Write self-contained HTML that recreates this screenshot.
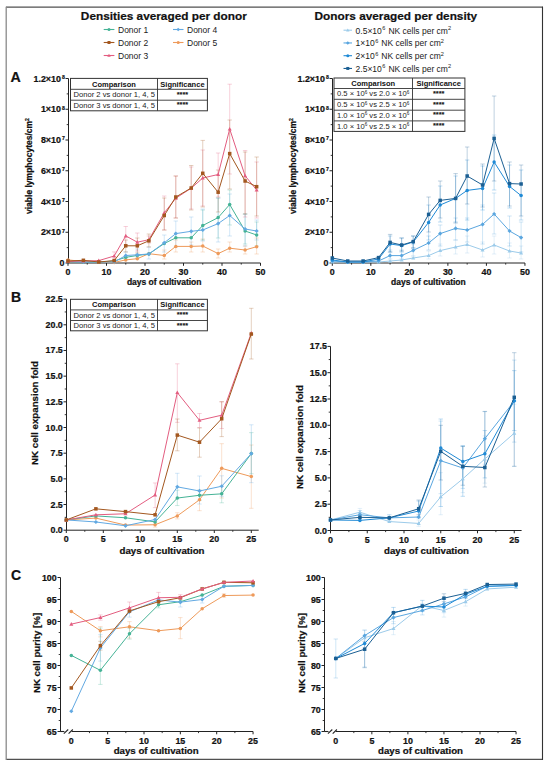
<!DOCTYPE html>
<html><head><meta charset="utf-8"><style>
html,body{margin:0;padding:0;background:#fff;}
body{width:550px;height:767px;overflow:hidden;}
svg{display:block;font-family:"Liberation Sans", sans-serif;}
text[font-weight="bold"]{stroke:#111;stroke-width:0.22px;}
</style></head><body>
<svg width="550" height="767" viewBox="0 0 550 767">
<rect x="0" y="0" width="550" height="767" fill="#fff"/>
<line x1="6.00" y1="7.20" x2="543.00" y2="7.20" stroke="#505050" stroke-width="1.3"/>
<line x1="6.00" y1="759.40" x2="543.00" y2="759.40" stroke="#505050" stroke-width="1.2"/>
<line x1="542.50" y1="6.80" x2="542.50" y2="760.00" stroke="#333" stroke-width="1.1"/>
<line x1="6.20" y1="6.80" x2="6.20" y2="760.00" stroke="#8a8a8a" stroke-width="1.3"/>
<text x="163.80" y="20.20" font-size="11.8" font-weight="bold" text-anchor="middle" fill="#111">Densities averaged per donor</text>
<line x1="103.70" y1="29.50" x2="114.40" y2="29.50" stroke="#45b396" stroke-width="1.1"/>
<circle cx="109.00" cy="29.50" r="1.5" fill="#45b396"/>
<text x="118.00" y="32.60" font-size="8.5" font-weight="normal" text-anchor="start" fill="#1a1a1a">Donor 1</text>
<line x1="103.70" y1="42.50" x2="114.40" y2="42.50" stroke="#a3571f" stroke-width="1.1"/>
<rect x="107.50" y="41.00" width="3.00" height="3.00" fill="#a3571f"/>
<text x="118.00" y="45.60" font-size="8.5" font-weight="normal" text-anchor="start" fill="#1a1a1a">Donor 2</text>
<line x1="103.70" y1="55.50" x2="114.40" y2="55.50" stroke="#e35d80" stroke-width="1.1"/>
<polygon points="109.00,53.70 110.72,56.77 107.28,56.77" fill="#e35d80"/>
<text x="118.00" y="58.60" font-size="8.5" font-weight="normal" text-anchor="start" fill="#1a1a1a">Donor 3</text>
<line x1="173.00" y1="29.50" x2="183.50" y2="29.50" stroke="#62a9e2" stroke-width="1.1"/>
<polygon points="178.20,27.70 180.00,29.50 178.20,31.30 176.40,29.50" fill="#62a9e2"/>
<text x="187.00" y="32.60" font-size="8.5" font-weight="normal" text-anchor="start" fill="#1a1a1a">Donor 4</text>
<line x1="173.00" y1="42.50" x2="183.50" y2="42.50" stroke="#ee9a5a" stroke-width="1.1"/>
<circle cx="178.20" cy="42.50" r="1.5" fill="#ee9a5a"/>
<text x="187.00" y="45.60" font-size="8.5" font-weight="normal" text-anchor="start" fill="#1a1a1a">Donor 5</text>
<text x="395.90" y="20.20" font-size="11.8" font-weight="bold" text-anchor="middle" fill="#111">Donors averaged per density</text>
<line x1="343.50" y1="30.20" x2="352.00" y2="30.20" stroke="#9ccbea" stroke-width="1.1"/>
<polygon points="347.80,28.40 349.53,31.47 346.07,31.47" fill="#9ccbea"/>
<text x="355.6" y="33.50" font-size="8.5" fill="#1a1a1a">0.5×10<tspan dx="0.5" dy="-3.3" font-size="5.6">6</tspan><tspan dy="3.3" dx="0.6"> NK cells per cm</tspan><tspan dy="-3.3" font-size="5.6">2</tspan></text>
<line x1="343.50" y1="42.95" x2="352.00" y2="42.95" stroke="#5aa6df" stroke-width="1.1"/>
<polygon points="347.80,41.15 349.60,42.95 347.80,44.75 346.00,42.95" fill="#5aa6df"/>
<text x="355.6" y="46.25" font-size="8.5" fill="#1a1a1a">1×10<tspan dx="0.5" dy="-3.3" font-size="5.6">6</tspan><tspan dy="3.3" dx="0.6"> NK cells per cm</tspan><tspan dy="-3.3" font-size="5.6">2</tspan></text>
<line x1="343.50" y1="55.70" x2="352.00" y2="55.70" stroke="#1f8ad6" stroke-width="1.1"/>
<circle cx="347.80" cy="55.70" r="1.5" fill="#1f8ad6"/>
<text x="355.6" y="59.00" font-size="8.5" fill="#1a1a1a">2×10<tspan dx="0.5" dy="-3.3" font-size="5.6">6</tspan><tspan dy="3.3" dx="0.6"> NK cells per cm</tspan><tspan dy="-3.3" font-size="5.6">2</tspan></text>
<line x1="343.50" y1="68.45" x2="352.00" y2="68.45" stroke="#1b5f93" stroke-width="1.1"/>
<rect x="346.30" y="66.95" width="3.00" height="3.00" fill="#1b5f93"/>
<text x="355.6" y="71.75" font-size="8.5" fill="#1a1a1a">2.5×10<tspan dx="0.5" dy="-3.3" font-size="5.6">6</tspan><tspan dy="3.3" dx="0.6"> NK cells per cm</tspan><tspan dy="-3.3" font-size="5.6">2</tspan></text>
<text x="10.40" y="81.80" font-size="14.2" font-weight="bold" text-anchor="start" fill="#111">A</text>
<text x="11.10" y="302.20" font-size="14.0" font-weight="bold" text-anchor="start" fill="#111">B</text>
<text x="11.10" y="580.20" font-size="14.0" font-weight="bold" text-anchor="start" fill="#111">C</text>
<line x1="68.50" y1="78.50" x2="68.50" y2="263.00" stroke="#222" stroke-width="1.0"/>
<line x1="65.50" y1="263.00" x2="68.50" y2="263.00" stroke="#222" stroke-width="1.0"/>
<text x="64.50" y="266.00" font-size="8.9" font-weight="bold" text-anchor="end" fill="#111">0</text>
<line x1="65.50" y1="232.25" x2="68.50" y2="232.25" stroke="#222" stroke-width="1.0"/>
<text x="64.80" y="235.25" font-size="8.9" font-weight="bold" text-anchor="end" fill="#111">2×10<tspan dx="1.0" dy="-2.6" font-size="5.16">7</tspan></text>
<line x1="65.50" y1="201.50" x2="68.50" y2="201.50" stroke="#222" stroke-width="1.0"/>
<text x="64.80" y="204.50" font-size="8.9" font-weight="bold" text-anchor="end" fill="#111">4×10<tspan dx="1.0" dy="-2.6" font-size="5.16">7</tspan></text>
<line x1="65.50" y1="170.75" x2="68.50" y2="170.75" stroke="#222" stroke-width="1.0"/>
<text x="64.80" y="173.75" font-size="8.9" font-weight="bold" text-anchor="end" fill="#111">6×10<tspan dx="1.0" dy="-2.6" font-size="5.16">7</tspan></text>
<line x1="65.50" y1="140.00" x2="68.50" y2="140.00" stroke="#222" stroke-width="1.0"/>
<text x="64.80" y="143.00" font-size="8.9" font-weight="bold" text-anchor="end" fill="#111">8×10<tspan dx="1.0" dy="-2.6" font-size="5.16">7</tspan></text>
<line x1="65.50" y1="109.25" x2="68.50" y2="109.25" stroke="#222" stroke-width="1.0"/>
<text x="64.80" y="112.25" font-size="8.9" font-weight="bold" text-anchor="end" fill="#111">1×10<tspan dx="1.0" dy="-2.6" font-size="5.16">8</tspan></text>
<line x1="65.50" y1="78.50" x2="68.50" y2="78.50" stroke="#222" stroke-width="1.0"/>
<text x="64.80" y="81.50" font-size="8.9" font-weight="bold" text-anchor="end" fill="#111">1.2×10<tspan dx="1.0" dy="-2.6" font-size="5.16">8</tspan></text>
<line x1="66.70" y1="247.62" x2="68.50" y2="247.62" stroke="#222" stroke-width="0.9"/>
<line x1="66.70" y1="216.88" x2="68.50" y2="216.88" stroke="#222" stroke-width="0.9"/>
<line x1="66.70" y1="186.12" x2="68.50" y2="186.12" stroke="#222" stroke-width="0.9"/>
<line x1="66.70" y1="155.38" x2="68.50" y2="155.38" stroke="#222" stroke-width="0.9"/>
<line x1="66.70" y1="124.62" x2="68.50" y2="124.62" stroke="#222" stroke-width="0.9"/>
<line x1="66.70" y1="93.88" x2="68.50" y2="93.88" stroke="#222" stroke-width="0.9"/>
<line x1="68.00" y1="263.00" x2="260.50" y2="263.00" stroke="#222" stroke-width="1.0"/>
<line x1="68.00" y1="263.00" x2="68.00" y2="265.80" stroke="#222" stroke-width="1.0"/>
<text x="68.00" y="275.20" font-size="8.9" font-weight="bold" text-anchor="middle" fill="#111">0</text>
<line x1="106.50" y1="263.00" x2="106.50" y2="265.80" stroke="#222" stroke-width="1.0"/>
<text x="106.50" y="275.20" font-size="8.9" font-weight="bold" text-anchor="middle" fill="#111">10</text>
<line x1="145.00" y1="263.00" x2="145.00" y2="265.80" stroke="#222" stroke-width="1.0"/>
<text x="145.00" y="275.20" font-size="8.9" font-weight="bold" text-anchor="middle" fill="#111">20</text>
<line x1="183.50" y1="263.00" x2="183.50" y2="265.80" stroke="#222" stroke-width="1.0"/>
<text x="183.50" y="275.20" font-size="8.9" font-weight="bold" text-anchor="middle" fill="#111">30</text>
<line x1="222.00" y1="263.00" x2="222.00" y2="265.80" stroke="#222" stroke-width="1.0"/>
<text x="222.00" y="275.20" font-size="8.9" font-weight="bold" text-anchor="middle" fill="#111">40</text>
<line x1="260.50" y1="263.00" x2="260.50" y2="265.80" stroke="#222" stroke-width="1.0"/>
<text x="260.50" y="275.20" font-size="8.9" font-weight="bold" text-anchor="middle" fill="#111">50</text>
<line x1="87.25" y1="263.00" x2="87.25" y2="264.60" stroke="#222" stroke-width="0.9"/>
<line x1="125.75" y1="263.00" x2="125.75" y2="264.60" stroke="#222" stroke-width="0.9"/>
<line x1="164.25" y1="263.00" x2="164.25" y2="264.60" stroke="#222" stroke-width="0.9"/>
<line x1="202.75" y1="263.00" x2="202.75" y2="264.60" stroke="#222" stroke-width="0.9"/>
<line x1="241.25" y1="263.00" x2="241.25" y2="264.60" stroke="#222" stroke-width="0.9"/>
<text x="164.20" y="284.60" font-size="8.5" font-weight="bold" text-anchor="middle" fill="#111">days of cultivation</text>
<text x="31.6" y="166.0" font-size="8.5" font-weight="bold" text-anchor="middle" fill="#111" transform="rotate(-90 31.6 166.0)">viable lymphocytes/cm<tspan dy="-3" font-size="5.2">2</tspan></text>
<line x1="164.25" y1="250.00" x2="164.25" y2="259.00" stroke="#ee9a5a" stroke-width="0.75" stroke-opacity="0.38"/>
<line x1="162.05" y1="250.00" x2="166.45" y2="250.00" stroke="#ee9a5a" stroke-width="0.75" stroke-opacity="0.38"/>
<line x1="162.05" y1="259.00" x2="166.45" y2="259.00" stroke="#ee9a5a" stroke-width="0.75" stroke-opacity="0.38"/>
<line x1="175.80" y1="240.00" x2="175.80" y2="252.00" stroke="#ee9a5a" stroke-width="0.75" stroke-opacity="0.38"/>
<line x1="173.60" y1="240.00" x2="178.00" y2="240.00" stroke="#ee9a5a" stroke-width="0.75" stroke-opacity="0.38"/>
<line x1="173.60" y1="252.00" x2="178.00" y2="252.00" stroke="#ee9a5a" stroke-width="0.75" stroke-opacity="0.38"/>
<line x1="191.20" y1="242.00" x2="191.20" y2="252.00" stroke="#ee9a5a" stroke-width="0.75" stroke-opacity="0.38"/>
<line x1="189.00" y1="242.00" x2="193.40" y2="242.00" stroke="#ee9a5a" stroke-width="0.75" stroke-opacity="0.38"/>
<line x1="189.00" y1="252.00" x2="193.40" y2="252.00" stroke="#ee9a5a" stroke-width="0.75" stroke-opacity="0.38"/>
<line x1="202.75" y1="239.00" x2="202.75" y2="252.00" stroke="#ee9a5a" stroke-width="0.75" stroke-opacity="0.38"/>
<line x1="200.55" y1="239.00" x2="204.95" y2="239.00" stroke="#ee9a5a" stroke-width="0.75" stroke-opacity="0.38"/>
<line x1="200.55" y1="252.00" x2="204.95" y2="252.00" stroke="#ee9a5a" stroke-width="0.75" stroke-opacity="0.38"/>
<line x1="218.15" y1="249.00" x2="218.15" y2="258.00" stroke="#ee9a5a" stroke-width="0.75" stroke-opacity="0.38"/>
<line x1="215.95" y1="249.00" x2="220.35" y2="249.00" stroke="#ee9a5a" stroke-width="0.75" stroke-opacity="0.38"/>
<line x1="215.95" y1="258.00" x2="220.35" y2="258.00" stroke="#ee9a5a" stroke-width="0.75" stroke-opacity="0.38"/>
<line x1="229.70" y1="242.00" x2="229.70" y2="252.00" stroke="#ee9a5a" stroke-width="0.75" stroke-opacity="0.38"/>
<line x1="227.50" y1="242.00" x2="231.90" y2="242.00" stroke="#ee9a5a" stroke-width="0.75" stroke-opacity="0.38"/>
<line x1="227.50" y1="252.00" x2="231.90" y2="252.00" stroke="#ee9a5a" stroke-width="0.75" stroke-opacity="0.38"/>
<line x1="245.10" y1="246.00" x2="245.10" y2="254.00" stroke="#ee9a5a" stroke-width="0.75" stroke-opacity="0.38"/>
<line x1="242.90" y1="246.00" x2="247.30" y2="246.00" stroke="#ee9a5a" stroke-width="0.75" stroke-opacity="0.38"/>
<line x1="242.90" y1="254.00" x2="247.30" y2="254.00" stroke="#ee9a5a" stroke-width="0.75" stroke-opacity="0.38"/>
<line x1="256.65" y1="238.00" x2="256.65" y2="254.00" stroke="#ee9a5a" stroke-width="0.75" stroke-opacity="0.38"/>
<line x1="254.45" y1="238.00" x2="258.85" y2="238.00" stroke="#ee9a5a" stroke-width="0.75" stroke-opacity="0.38"/>
<line x1="254.45" y1="254.00" x2="258.85" y2="254.00" stroke="#ee9a5a" stroke-width="0.75" stroke-opacity="0.38"/>
<line x1="202.75" y1="210.00" x2="202.75" y2="240.00" stroke="#45b396" stroke-width="0.75" stroke-opacity="0.38"/>
<line x1="200.55" y1="210.00" x2="204.95" y2="210.00" stroke="#45b396" stroke-width="0.75" stroke-opacity="0.38"/>
<line x1="200.55" y1="240.00" x2="204.95" y2="240.00" stroke="#45b396" stroke-width="0.75" stroke-opacity="0.38"/>
<line x1="218.15" y1="198.00" x2="218.15" y2="238.00" stroke="#45b396" stroke-width="0.75" stroke-opacity="0.38"/>
<line x1="215.95" y1="198.00" x2="220.35" y2="198.00" stroke="#45b396" stroke-width="0.75" stroke-opacity="0.38"/>
<line x1="215.95" y1="238.00" x2="220.35" y2="238.00" stroke="#45b396" stroke-width="0.75" stroke-opacity="0.38"/>
<line x1="229.70" y1="190.00" x2="229.70" y2="225.00" stroke="#45b396" stroke-width="0.75" stroke-opacity="0.38"/>
<line x1="227.50" y1="190.00" x2="231.90" y2="190.00" stroke="#45b396" stroke-width="0.75" stroke-opacity="0.38"/>
<line x1="227.50" y1="225.00" x2="231.90" y2="225.00" stroke="#45b396" stroke-width="0.75" stroke-opacity="0.38"/>
<line x1="245.10" y1="214.00" x2="245.10" y2="244.00" stroke="#45b396" stroke-width="0.75" stroke-opacity="0.38"/>
<line x1="242.90" y1="214.00" x2="247.30" y2="214.00" stroke="#45b396" stroke-width="0.75" stroke-opacity="0.38"/>
<line x1="242.90" y1="244.00" x2="247.30" y2="244.00" stroke="#45b396" stroke-width="0.75" stroke-opacity="0.38"/>
<line x1="256.65" y1="222.00" x2="256.65" y2="246.00" stroke="#45b396" stroke-width="0.75" stroke-opacity="0.38"/>
<line x1="254.45" y1="222.00" x2="258.85" y2="222.00" stroke="#45b396" stroke-width="0.75" stroke-opacity="0.38"/>
<line x1="254.45" y1="246.00" x2="258.85" y2="246.00" stroke="#45b396" stroke-width="0.75" stroke-opacity="0.38"/>
<line x1="125.75" y1="251.90" x2="125.75" y2="259.00" stroke="#62a9e2" stroke-width="0.75" stroke-opacity="0.38"/>
<line x1="123.55" y1="251.90" x2="127.95" y2="251.90" stroke="#62a9e2" stroke-width="0.75" stroke-opacity="0.38"/>
<line x1="123.55" y1="259.00" x2="127.95" y2="259.00" stroke="#62a9e2" stroke-width="0.75" stroke-opacity="0.38"/>
<line x1="137.30" y1="249.00" x2="137.30" y2="258.00" stroke="#62a9e2" stroke-width="0.75" stroke-opacity="0.38"/>
<line x1="135.10" y1="249.00" x2="139.50" y2="249.00" stroke="#62a9e2" stroke-width="0.75" stroke-opacity="0.38"/>
<line x1="135.10" y1="258.00" x2="139.50" y2="258.00" stroke="#62a9e2" stroke-width="0.75" stroke-opacity="0.38"/>
<line x1="148.85" y1="247.00" x2="148.85" y2="259.00" stroke="#62a9e2" stroke-width="0.75" stroke-opacity="0.38"/>
<line x1="146.65" y1="247.00" x2="151.05" y2="247.00" stroke="#62a9e2" stroke-width="0.75" stroke-opacity="0.38"/>
<line x1="146.65" y1="259.00" x2="151.05" y2="259.00" stroke="#62a9e2" stroke-width="0.75" stroke-opacity="0.38"/>
<line x1="164.25" y1="235.00" x2="164.25" y2="252.00" stroke="#62a9e2" stroke-width="0.75" stroke-opacity="0.38"/>
<line x1="162.05" y1="235.00" x2="166.45" y2="235.00" stroke="#62a9e2" stroke-width="0.75" stroke-opacity="0.38"/>
<line x1="162.05" y1="252.00" x2="166.45" y2="252.00" stroke="#62a9e2" stroke-width="0.75" stroke-opacity="0.38"/>
<line x1="175.80" y1="221.00" x2="175.80" y2="247.00" stroke="#62a9e2" stroke-width="0.75" stroke-opacity="0.38"/>
<line x1="173.60" y1="221.00" x2="178.00" y2="221.00" stroke="#62a9e2" stroke-width="0.75" stroke-opacity="0.38"/>
<line x1="173.60" y1="247.00" x2="178.00" y2="247.00" stroke="#62a9e2" stroke-width="0.75" stroke-opacity="0.38"/>
<line x1="191.20" y1="217.00" x2="191.20" y2="245.00" stroke="#62a9e2" stroke-width="0.75" stroke-opacity="0.38"/>
<line x1="189.00" y1="217.00" x2="193.40" y2="217.00" stroke="#62a9e2" stroke-width="0.75" stroke-opacity="0.38"/>
<line x1="189.00" y1="245.00" x2="193.40" y2="245.00" stroke="#62a9e2" stroke-width="0.75" stroke-opacity="0.38"/>
<line x1="202.75" y1="209.00" x2="202.75" y2="241.00" stroke="#62a9e2" stroke-width="0.75" stroke-opacity="0.38"/>
<line x1="200.55" y1="209.00" x2="204.95" y2="209.00" stroke="#62a9e2" stroke-width="0.75" stroke-opacity="0.38"/>
<line x1="200.55" y1="241.00" x2="204.95" y2="241.00" stroke="#62a9e2" stroke-width="0.75" stroke-opacity="0.38"/>
<line x1="218.15" y1="198.00" x2="218.15" y2="242.00" stroke="#62a9e2" stroke-width="0.75" stroke-opacity="0.38"/>
<line x1="215.95" y1="198.00" x2="220.35" y2="198.00" stroke="#62a9e2" stroke-width="0.75" stroke-opacity="0.38"/>
<line x1="215.95" y1="242.00" x2="220.35" y2="242.00" stroke="#62a9e2" stroke-width="0.75" stroke-opacity="0.38"/>
<line x1="229.70" y1="194.00" x2="229.70" y2="236.00" stroke="#62a9e2" stroke-width="0.75" stroke-opacity="0.38"/>
<line x1="227.50" y1="194.00" x2="231.90" y2="194.00" stroke="#62a9e2" stroke-width="0.75" stroke-opacity="0.38"/>
<line x1="227.50" y1="236.00" x2="231.90" y2="236.00" stroke="#62a9e2" stroke-width="0.75" stroke-opacity="0.38"/>
<line x1="245.10" y1="214.00" x2="245.10" y2="246.00" stroke="#62a9e2" stroke-width="0.75" stroke-opacity="0.38"/>
<line x1="242.90" y1="214.00" x2="247.30" y2="214.00" stroke="#62a9e2" stroke-width="0.75" stroke-opacity="0.38"/>
<line x1="242.90" y1="246.00" x2="247.30" y2="246.00" stroke="#62a9e2" stroke-width="0.75" stroke-opacity="0.38"/>
<line x1="256.65" y1="220.00" x2="256.65" y2="240.00" stroke="#62a9e2" stroke-width="0.75" stroke-opacity="0.38"/>
<line x1="254.45" y1="220.00" x2="258.85" y2="220.00" stroke="#62a9e2" stroke-width="0.75" stroke-opacity="0.38"/>
<line x1="254.45" y1="240.00" x2="258.85" y2="240.00" stroke="#62a9e2" stroke-width="0.75" stroke-opacity="0.38"/>
<line x1="114.20" y1="251.90" x2="114.20" y2="259.00" stroke="#e35d80" stroke-width="0.75" stroke-opacity="0.38"/>
<line x1="112.00" y1="251.90" x2="116.40" y2="251.90" stroke="#e35d80" stroke-width="0.75" stroke-opacity="0.38"/>
<line x1="112.00" y1="259.00" x2="116.40" y2="259.00" stroke="#e35d80" stroke-width="0.75" stroke-opacity="0.38"/>
<line x1="125.75" y1="226.50" x2="125.75" y2="245.00" stroke="#e35d80" stroke-width="0.75" stroke-opacity="0.38"/>
<line x1="123.55" y1="226.50" x2="127.95" y2="226.50" stroke="#e35d80" stroke-width="0.75" stroke-opacity="0.38"/>
<line x1="123.55" y1="245.00" x2="127.95" y2="245.00" stroke="#e35d80" stroke-width="0.75" stroke-opacity="0.38"/>
<line x1="137.30" y1="233.00" x2="137.30" y2="251.00" stroke="#e35d80" stroke-width="0.75" stroke-opacity="0.38"/>
<line x1="135.10" y1="233.00" x2="139.50" y2="233.00" stroke="#e35d80" stroke-width="0.75" stroke-opacity="0.38"/>
<line x1="135.10" y1="251.00" x2="139.50" y2="251.00" stroke="#e35d80" stroke-width="0.75" stroke-opacity="0.38"/>
<line x1="148.85" y1="236.00" x2="148.85" y2="243.00" stroke="#e35d80" stroke-width="0.75" stroke-opacity="0.38"/>
<line x1="146.65" y1="236.00" x2="151.05" y2="236.00" stroke="#e35d80" stroke-width="0.75" stroke-opacity="0.38"/>
<line x1="146.65" y1="243.00" x2="151.05" y2="243.00" stroke="#e35d80" stroke-width="0.75" stroke-opacity="0.38"/>
<line x1="164.25" y1="196.00" x2="164.25" y2="230.00" stroke="#e35d80" stroke-width="0.75" stroke-opacity="0.38"/>
<line x1="162.05" y1="196.00" x2="166.45" y2="196.00" stroke="#e35d80" stroke-width="0.75" stroke-opacity="0.38"/>
<line x1="162.05" y1="230.00" x2="166.45" y2="230.00" stroke="#e35d80" stroke-width="0.75" stroke-opacity="0.38"/>
<line x1="175.80" y1="176.00" x2="175.80" y2="218.00" stroke="#e35d80" stroke-width="0.75" stroke-opacity="0.38"/>
<line x1="173.60" y1="176.00" x2="178.00" y2="176.00" stroke="#e35d80" stroke-width="0.75" stroke-opacity="0.38"/>
<line x1="173.60" y1="218.00" x2="178.00" y2="218.00" stroke="#e35d80" stroke-width="0.75" stroke-opacity="0.38"/>
<line x1="191.20" y1="167.00" x2="191.20" y2="209.00" stroke="#e35d80" stroke-width="0.75" stroke-opacity="0.38"/>
<line x1="189.00" y1="167.00" x2="193.40" y2="167.00" stroke="#e35d80" stroke-width="0.75" stroke-opacity="0.38"/>
<line x1="189.00" y1="209.00" x2="193.40" y2="209.00" stroke="#e35d80" stroke-width="0.75" stroke-opacity="0.38"/>
<line x1="202.75" y1="150.00" x2="202.75" y2="206.00" stroke="#e35d80" stroke-width="0.75" stroke-opacity="0.38"/>
<line x1="200.55" y1="150.00" x2="204.95" y2="150.00" stroke="#e35d80" stroke-width="0.75" stroke-opacity="0.38"/>
<line x1="200.55" y1="206.00" x2="204.95" y2="206.00" stroke="#e35d80" stroke-width="0.75" stroke-opacity="0.38"/>
<line x1="218.15" y1="153.00" x2="218.15" y2="197.00" stroke="#e35d80" stroke-width="0.75" stroke-opacity="0.38"/>
<line x1="215.95" y1="153.00" x2="220.35" y2="153.00" stroke="#e35d80" stroke-width="0.75" stroke-opacity="0.38"/>
<line x1="215.95" y1="197.00" x2="220.35" y2="197.00" stroke="#e35d80" stroke-width="0.75" stroke-opacity="0.38"/>
<line x1="229.70" y1="84.20" x2="229.70" y2="174.00" stroke="#e35d80" stroke-width="0.75" stroke-opacity="0.38"/>
<line x1="227.50" y1="84.20" x2="231.90" y2="84.20" stroke="#e35d80" stroke-width="0.75" stroke-opacity="0.38"/>
<line x1="227.50" y1="174.00" x2="231.90" y2="174.00" stroke="#e35d80" stroke-width="0.75" stroke-opacity="0.38"/>
<line x1="245.10" y1="150.50" x2="245.10" y2="217.00" stroke="#e35d80" stroke-width="0.75" stroke-opacity="0.38"/>
<line x1="242.90" y1="150.50" x2="247.30" y2="150.50" stroke="#e35d80" stroke-width="0.75" stroke-opacity="0.38"/>
<line x1="242.90" y1="217.00" x2="247.30" y2="217.00" stroke="#e35d80" stroke-width="0.75" stroke-opacity="0.38"/>
<line x1="256.65" y1="162.00" x2="256.65" y2="218.00" stroke="#e35d80" stroke-width="0.75" stroke-opacity="0.38"/>
<line x1="254.45" y1="162.00" x2="258.85" y2="162.00" stroke="#e35d80" stroke-width="0.75" stroke-opacity="0.38"/>
<line x1="254.45" y1="218.00" x2="258.85" y2="218.00" stroke="#e35d80" stroke-width="0.75" stroke-opacity="0.38"/>
<line x1="125.75" y1="240.00" x2="125.75" y2="252.00" stroke="#a3571f" stroke-width="0.75" stroke-opacity="0.38"/>
<line x1="123.55" y1="240.00" x2="127.95" y2="240.00" stroke="#a3571f" stroke-width="0.75" stroke-opacity="0.38"/>
<line x1="123.55" y1="252.00" x2="127.95" y2="252.00" stroke="#a3571f" stroke-width="0.75" stroke-opacity="0.38"/>
<line x1="137.30" y1="238.00" x2="137.30" y2="253.00" stroke="#a3571f" stroke-width="0.75" stroke-opacity="0.38"/>
<line x1="135.10" y1="238.00" x2="139.50" y2="238.00" stroke="#a3571f" stroke-width="0.75" stroke-opacity="0.38"/>
<line x1="135.10" y1="253.00" x2="139.50" y2="253.00" stroke="#a3571f" stroke-width="0.75" stroke-opacity="0.38"/>
<line x1="148.85" y1="234.00" x2="148.85" y2="247.00" stroke="#a3571f" stroke-width="0.75" stroke-opacity="0.38"/>
<line x1="146.65" y1="234.00" x2="151.05" y2="234.00" stroke="#a3571f" stroke-width="0.75" stroke-opacity="0.38"/>
<line x1="146.65" y1="247.00" x2="151.05" y2="247.00" stroke="#a3571f" stroke-width="0.75" stroke-opacity="0.38"/>
<line x1="164.25" y1="198.00" x2="164.25" y2="230.00" stroke="#a3571f" stroke-width="0.75" stroke-opacity="0.38"/>
<line x1="162.05" y1="198.00" x2="166.45" y2="198.00" stroke="#a3571f" stroke-width="0.75" stroke-opacity="0.38"/>
<line x1="162.05" y1="230.00" x2="166.45" y2="230.00" stroke="#a3571f" stroke-width="0.75" stroke-opacity="0.38"/>
<line x1="175.80" y1="176.00" x2="175.80" y2="218.00" stroke="#a3571f" stroke-width="0.75" stroke-opacity="0.38"/>
<line x1="173.60" y1="176.00" x2="178.00" y2="176.00" stroke="#a3571f" stroke-width="0.75" stroke-opacity="0.38"/>
<line x1="173.60" y1="218.00" x2="178.00" y2="218.00" stroke="#a3571f" stroke-width="0.75" stroke-opacity="0.38"/>
<line x1="191.20" y1="165.50" x2="191.20" y2="210.00" stroke="#a3571f" stroke-width="0.75" stroke-opacity="0.38"/>
<line x1="189.00" y1="165.50" x2="193.40" y2="165.50" stroke="#a3571f" stroke-width="0.75" stroke-opacity="0.38"/>
<line x1="189.00" y1="210.00" x2="193.40" y2="210.00" stroke="#a3571f" stroke-width="0.75" stroke-opacity="0.38"/>
<line x1="202.75" y1="140.40" x2="202.75" y2="207.00" stroke="#a3571f" stroke-width="0.75" stroke-opacity="0.38"/>
<line x1="200.55" y1="140.40" x2="204.95" y2="140.40" stroke="#a3571f" stroke-width="0.75" stroke-opacity="0.38"/>
<line x1="200.55" y1="207.00" x2="204.95" y2="207.00" stroke="#a3571f" stroke-width="0.75" stroke-opacity="0.38"/>
<line x1="218.15" y1="170.00" x2="218.15" y2="212.00" stroke="#a3571f" stroke-width="0.75" stroke-opacity="0.38"/>
<line x1="215.95" y1="170.00" x2="220.35" y2="170.00" stroke="#a3571f" stroke-width="0.75" stroke-opacity="0.38"/>
<line x1="215.95" y1="212.00" x2="220.35" y2="212.00" stroke="#a3571f" stroke-width="0.75" stroke-opacity="0.38"/>
<line x1="229.70" y1="120.00" x2="229.70" y2="189.00" stroke="#a3571f" stroke-width="0.75" stroke-opacity="0.38"/>
<line x1="227.50" y1="120.00" x2="231.90" y2="120.00" stroke="#a3571f" stroke-width="0.75" stroke-opacity="0.38"/>
<line x1="227.50" y1="189.00" x2="231.90" y2="189.00" stroke="#a3571f" stroke-width="0.75" stroke-opacity="0.38"/>
<line x1="245.10" y1="152.00" x2="245.10" y2="214.00" stroke="#a3571f" stroke-width="0.75" stroke-opacity="0.38"/>
<line x1="242.90" y1="152.00" x2="247.30" y2="152.00" stroke="#a3571f" stroke-width="0.75" stroke-opacity="0.38"/>
<line x1="242.90" y1="214.00" x2="247.30" y2="214.00" stroke="#a3571f" stroke-width="0.75" stroke-opacity="0.38"/>
<line x1="256.65" y1="157.00" x2="256.65" y2="216.00" stroke="#a3571f" stroke-width="0.75" stroke-opacity="0.38"/>
<line x1="254.45" y1="157.00" x2="258.85" y2="157.00" stroke="#a3571f" stroke-width="0.75" stroke-opacity="0.38"/>
<line x1="254.45" y1="216.00" x2="258.85" y2="216.00" stroke="#a3571f" stroke-width="0.75" stroke-opacity="0.38"/>
<polyline points="68.00,259.90 83.40,261.50 98.80,262.00 114.20,262.40 125.75,259.90 137.30,258.70 148.85,253.70 164.25,255.50 175.80,246.40 191.20,246.40 202.75,246.00 218.15,253.60 229.70,248.20 245.10,250.00 256.65,246.70" fill="none" stroke="#ee9a5a" stroke-width="1.0" stroke-linejoin="miter"/>
<circle cx="68.00" cy="259.90" r="1.75" fill="#ee9a5a"/>
<circle cx="83.40" cy="261.50" r="1.75" fill="#ee9a5a"/>
<circle cx="98.80" cy="262.00" r="1.75" fill="#ee9a5a"/>
<circle cx="114.20" cy="262.40" r="1.75" fill="#ee9a5a"/>
<circle cx="125.75" cy="259.90" r="1.75" fill="#ee9a5a"/>
<circle cx="137.30" cy="258.70" r="1.75" fill="#ee9a5a"/>
<circle cx="148.85" cy="253.70" r="1.75" fill="#ee9a5a"/>
<circle cx="164.25" cy="255.50" r="1.75" fill="#ee9a5a"/>
<circle cx="175.80" cy="246.40" r="1.75" fill="#ee9a5a"/>
<circle cx="191.20" cy="246.40" r="1.75" fill="#ee9a5a"/>
<circle cx="202.75" cy="246.00" r="1.75" fill="#ee9a5a"/>
<circle cx="218.15" cy="253.60" r="1.75" fill="#ee9a5a"/>
<circle cx="229.70" cy="248.20" r="1.75" fill="#ee9a5a"/>
<circle cx="245.10" cy="250.00" r="1.75" fill="#ee9a5a"/>
<circle cx="256.65" cy="246.70" r="1.75" fill="#ee9a5a"/>
<polyline points="68.00,261.50 83.40,262.00 98.80,262.00 114.20,261.00 125.75,257.30 137.30,255.50 148.85,254.00 164.25,243.50 175.80,237.80 191.20,237.80 202.75,225.50 218.15,217.60 229.70,204.50 245.10,231.00 256.65,235.00" fill="none" stroke="#45b396" stroke-width="1.0" stroke-linejoin="miter"/>
<circle cx="68.00" cy="261.50" r="1.75" fill="#45b396"/>
<circle cx="83.40" cy="262.00" r="1.75" fill="#45b396"/>
<circle cx="98.80" cy="262.00" r="1.75" fill="#45b396"/>
<circle cx="114.20" cy="261.00" r="1.75" fill="#45b396"/>
<circle cx="125.75" cy="257.30" r="1.75" fill="#45b396"/>
<circle cx="137.30" cy="255.50" r="1.75" fill="#45b396"/>
<circle cx="148.85" cy="254.00" r="1.75" fill="#45b396"/>
<circle cx="164.25" cy="243.50" r="1.75" fill="#45b396"/>
<circle cx="175.80" cy="237.80" r="1.75" fill="#45b396"/>
<circle cx="191.20" cy="237.80" r="1.75" fill="#45b396"/>
<circle cx="202.75" cy="225.50" r="1.75" fill="#45b396"/>
<circle cx="218.15" cy="217.60" r="1.75" fill="#45b396"/>
<circle cx="229.70" cy="204.50" r="1.75" fill="#45b396"/>
<circle cx="245.10" cy="231.00" r="1.75" fill="#45b396"/>
<circle cx="256.65" cy="235.00" r="1.75" fill="#45b396"/>
<polyline points="68.00,261.50 83.40,262.00 98.80,262.00 114.20,262.00 125.75,255.50 137.30,254.80 148.85,254.00 164.25,242.80 175.80,233.60 191.20,231.30 202.75,230.00 218.15,223.60 229.70,215.50 245.10,229.00 256.65,231.00" fill="none" stroke="#62a9e2" stroke-width="1.0" stroke-linejoin="miter"/>
<polygon points="68.00,259.40 70.10,261.50 68.00,263.60 65.90,261.50" fill="#62a9e2"/>
<polygon points="83.40,259.90 85.50,262.00 83.40,264.10 81.30,262.00" fill="#62a9e2"/>
<polygon points="98.80,259.90 100.90,262.00 98.80,264.10 96.70,262.00" fill="#62a9e2"/>
<polygon points="114.20,259.90 116.30,262.00 114.20,264.10 112.10,262.00" fill="#62a9e2"/>
<polygon points="125.75,253.40 127.85,255.50 125.75,257.60 123.65,255.50" fill="#62a9e2"/>
<polygon points="137.30,252.70 139.40,254.80 137.30,256.90 135.20,254.80" fill="#62a9e2"/>
<polygon points="148.85,251.90 150.95,254.00 148.85,256.10 146.75,254.00" fill="#62a9e2"/>
<polygon points="164.25,240.70 166.35,242.80 164.25,244.90 162.15,242.80" fill="#62a9e2"/>
<polygon points="175.80,231.50 177.90,233.60 175.80,235.70 173.70,233.60" fill="#62a9e2"/>
<polygon points="191.20,229.20 193.30,231.30 191.20,233.40 189.10,231.30" fill="#62a9e2"/>
<polygon points="202.75,227.90 204.85,230.00 202.75,232.10 200.65,230.00" fill="#62a9e2"/>
<polygon points="218.15,221.50 220.25,223.60 218.15,225.70 216.05,223.60" fill="#62a9e2"/>
<polygon points="229.70,213.40 231.80,215.50 229.70,217.60 227.60,215.50" fill="#62a9e2"/>
<polygon points="245.10,226.90 247.20,229.00 245.10,231.10 243.00,229.00" fill="#62a9e2"/>
<polygon points="256.65,228.90 258.75,231.00 256.65,233.10 254.55,231.00" fill="#62a9e2"/>
<polyline points="68.00,261.40 83.40,261.00 98.80,260.60 114.20,256.00 125.75,235.90 137.30,242.20 148.85,239.70 164.25,212.90 175.80,198.20 191.20,188.20 202.75,178.00 218.15,174.50 229.70,129.00 245.10,175.80 256.65,190.00" fill="none" stroke="#e35d80" stroke-width="1.0" stroke-linejoin="miter"/>
<polygon points="68.00,259.30 70.01,262.89 65.99,262.89" fill="#e35d80"/>
<polygon points="83.40,258.90 85.41,262.49 81.39,262.49" fill="#e35d80"/>
<polygon points="98.80,258.50 100.81,262.09 96.79,262.09" fill="#e35d80"/>
<polygon points="114.20,253.90 116.21,257.49 112.19,257.49" fill="#e35d80"/>
<polygon points="125.75,233.80 127.76,237.39 123.74,237.39" fill="#e35d80"/>
<polygon points="137.30,240.10 139.31,243.69 135.29,243.69" fill="#e35d80"/>
<polygon points="148.85,237.60 150.86,241.19 146.84,241.19" fill="#e35d80"/>
<polygon points="164.25,210.80 166.26,214.39 162.24,214.39" fill="#e35d80"/>
<polygon points="175.80,196.10 177.81,199.69 173.79,199.69" fill="#e35d80"/>
<polygon points="191.20,186.10 193.21,189.69 189.19,189.69" fill="#e35d80"/>
<polygon points="202.75,175.90 204.76,179.49 200.74,179.49" fill="#e35d80"/>
<polygon points="218.15,172.40 220.16,175.99 216.14,175.99" fill="#e35d80"/>
<polygon points="229.70,126.90 231.71,130.49 227.69,130.49" fill="#e35d80"/>
<polygon points="245.10,173.70 247.11,177.29 243.09,177.29" fill="#e35d80"/>
<polygon points="256.65,187.90 258.66,191.49 254.64,191.49" fill="#e35d80"/>
<polyline points="68.00,261.00 83.40,260.30 98.80,262.00 114.20,260.60 125.75,245.80 137.30,245.80 148.85,240.80 164.25,215.50 175.80,197.00 191.20,188.00 202.75,173.30 218.15,192.20 229.70,153.60 245.10,181.00 256.65,186.70" fill="none" stroke="#a3571f" stroke-width="1.0" stroke-linejoin="miter"/>
<rect x="66.25" y="259.25" width="3.50" height="3.50" fill="#a3571f"/>
<rect x="81.65" y="258.55" width="3.50" height="3.50" fill="#a3571f"/>
<rect x="97.05" y="260.25" width="3.50" height="3.50" fill="#a3571f"/>
<rect x="112.45" y="258.85" width="3.50" height="3.50" fill="#a3571f"/>
<rect x="124.00" y="244.05" width="3.50" height="3.50" fill="#a3571f"/>
<rect x="135.55" y="244.05" width="3.50" height="3.50" fill="#a3571f"/>
<rect x="147.10" y="239.05" width="3.50" height="3.50" fill="#a3571f"/>
<rect x="162.50" y="213.75" width="3.50" height="3.50" fill="#a3571f"/>
<rect x="174.05" y="195.25" width="3.50" height="3.50" fill="#a3571f"/>
<rect x="189.45" y="186.25" width="3.50" height="3.50" fill="#a3571f"/>
<rect x="201.00" y="171.55" width="3.50" height="3.50" fill="#a3571f"/>
<rect x="216.40" y="190.45" width="3.50" height="3.50" fill="#a3571f"/>
<rect x="227.95" y="151.85" width="3.50" height="3.50" fill="#a3571f"/>
<rect x="243.35" y="179.25" width="3.50" height="3.50" fill="#a3571f"/>
<rect x="254.90" y="184.95" width="3.50" height="3.50" fill="#a3571f"/>
<rect x="70.50" y="78.40" width="136.90" height="32.40" fill="#fff" stroke="#333" stroke-width="1"/>
<line x1="70.50" y1="89.30" x2="207.40" y2="89.30" stroke="#333" stroke-width="0.9"/>
<line x1="70.50" y1="100.20" x2="207.40" y2="100.20" stroke="#333" stroke-width="0.9"/>
<line x1="157.50" y1="78.40" x2="157.50" y2="110.80" stroke="#333" stroke-width="0.9"/>
<text x="114.00" y="86.55" font-size="7.524" font-weight="bold" text-anchor="middle" fill="#111" style="stroke:none">Comparison</text>
<text x="182.45" y="86.55" font-size="7.524" font-weight="bold" text-anchor="middle" fill="#111" style="stroke:none">Significance</text>
<text x="73.50" y="97.15" font-size="7.6" font-weight="normal" text-anchor="start" fill="#222">Donor 2 vs donor 1, 4, 5</text>
<text x="182.45" y="96.65" font-size="7.4479999999999995" font-weight="normal" text-anchor="middle" fill="#111" stroke="#111" stroke-width="0.25">****</text>
<text x="73.50" y="107.90" font-size="7.6" font-weight="normal" text-anchor="start" fill="#222">Donor 3 vs donor 1, 4, 5</text>
<text x="182.45" y="107.40" font-size="7.4479999999999995" font-weight="normal" text-anchor="middle" fill="#111" stroke="#111" stroke-width="0.25">****</text>
<line x1="332.50" y1="78.50" x2="332.50" y2="263.00" stroke="#222" stroke-width="1.0"/>
<line x1="329.50" y1="263.00" x2="332.50" y2="263.00" stroke="#222" stroke-width="1.0"/>
<text x="328.50" y="266.00" font-size="8.9" font-weight="bold" text-anchor="end" fill="#111">0</text>
<line x1="329.50" y1="232.25" x2="332.50" y2="232.25" stroke="#222" stroke-width="1.0"/>
<text x="328.80" y="235.25" font-size="8.9" font-weight="bold" text-anchor="end" fill="#111">2×10<tspan dx="1.0" dy="-2.6" font-size="5.16">7</tspan></text>
<line x1="329.50" y1="201.50" x2="332.50" y2="201.50" stroke="#222" stroke-width="1.0"/>
<text x="328.80" y="204.50" font-size="8.9" font-weight="bold" text-anchor="end" fill="#111">4×10<tspan dx="1.0" dy="-2.6" font-size="5.16">7</tspan></text>
<line x1="329.50" y1="170.75" x2="332.50" y2="170.75" stroke="#222" stroke-width="1.0"/>
<text x="328.80" y="173.75" font-size="8.9" font-weight="bold" text-anchor="end" fill="#111">6×10<tspan dx="1.0" dy="-2.6" font-size="5.16">7</tspan></text>
<line x1="329.50" y1="140.00" x2="332.50" y2="140.00" stroke="#222" stroke-width="1.0"/>
<text x="328.80" y="143.00" font-size="8.9" font-weight="bold" text-anchor="end" fill="#111">8×10<tspan dx="1.0" dy="-2.6" font-size="5.16">7</tspan></text>
<line x1="329.50" y1="109.25" x2="332.50" y2="109.25" stroke="#222" stroke-width="1.0"/>
<text x="328.80" y="112.25" font-size="8.9" font-weight="bold" text-anchor="end" fill="#111">1×10<tspan dx="1.0" dy="-2.6" font-size="5.16">8</tspan></text>
<line x1="329.50" y1="78.50" x2="332.50" y2="78.50" stroke="#222" stroke-width="1.0"/>
<text x="328.80" y="81.50" font-size="8.9" font-weight="bold" text-anchor="end" fill="#111">1.2×10<tspan dx="1.0" dy="-2.6" font-size="5.16">8</tspan></text>
<line x1="330.70" y1="247.62" x2="332.50" y2="247.62" stroke="#222" stroke-width="0.9"/>
<line x1="330.70" y1="216.88" x2="332.50" y2="216.88" stroke="#222" stroke-width="0.9"/>
<line x1="330.70" y1="186.12" x2="332.50" y2="186.12" stroke="#222" stroke-width="0.9"/>
<line x1="330.70" y1="155.38" x2="332.50" y2="155.38" stroke="#222" stroke-width="0.9"/>
<line x1="330.70" y1="124.62" x2="332.50" y2="124.62" stroke="#222" stroke-width="0.9"/>
<line x1="330.70" y1="93.88" x2="332.50" y2="93.88" stroke="#222" stroke-width="0.9"/>
<line x1="332.00" y1="263.00" x2="524.95" y2="263.00" stroke="#222" stroke-width="1.0"/>
<line x1="332.30" y1="263.00" x2="332.30" y2="265.80" stroke="#222" stroke-width="1.0"/>
<text x="332.30" y="275.20" font-size="8.9" font-weight="bold" text-anchor="middle" fill="#111">0</text>
<line x1="370.83" y1="263.00" x2="370.83" y2="265.80" stroke="#222" stroke-width="1.0"/>
<text x="370.83" y="275.20" font-size="8.9" font-weight="bold" text-anchor="middle" fill="#111">10</text>
<line x1="409.36" y1="263.00" x2="409.36" y2="265.80" stroke="#222" stroke-width="1.0"/>
<text x="409.36" y="275.20" font-size="8.9" font-weight="bold" text-anchor="middle" fill="#111">20</text>
<line x1="447.89" y1="263.00" x2="447.89" y2="265.80" stroke="#222" stroke-width="1.0"/>
<text x="447.89" y="275.20" font-size="8.9" font-weight="bold" text-anchor="middle" fill="#111">30</text>
<line x1="486.42" y1="263.00" x2="486.42" y2="265.80" stroke="#222" stroke-width="1.0"/>
<text x="486.42" y="275.20" font-size="8.9" font-weight="bold" text-anchor="middle" fill="#111">40</text>
<line x1="524.95" y1="263.00" x2="524.95" y2="265.80" stroke="#222" stroke-width="1.0"/>
<text x="524.95" y="275.20" font-size="8.9" font-weight="bold" text-anchor="middle" fill="#111">50</text>
<line x1="351.56" y1="263.00" x2="351.56" y2="264.60" stroke="#222" stroke-width="0.9"/>
<line x1="390.10" y1="263.00" x2="390.10" y2="264.60" stroke="#222" stroke-width="0.9"/>
<line x1="428.62" y1="263.00" x2="428.62" y2="264.60" stroke="#222" stroke-width="0.9"/>
<line x1="467.16" y1="263.00" x2="467.16" y2="264.60" stroke="#222" stroke-width="0.9"/>
<line x1="505.69" y1="263.00" x2="505.69" y2="264.60" stroke="#222" stroke-width="0.9"/>
<text x="428.40" y="284.60" font-size="8.5" font-weight="bold" text-anchor="middle" fill="#111">days of cultivation</text>
<text x="295.6" y="166.0" font-size="8.5" font-weight="bold" text-anchor="middle" fill="#111" transform="rotate(-90 295.6 166.0)">viable lymphocytes/cm<tspan dy="-3" font-size="5.2">2</tspan></text>
<line x1="428.62" y1="251.00" x2="428.62" y2="259.00" stroke="#9ccbea" stroke-width="0.75" stroke-opacity="0.38"/>
<line x1="426.43" y1="251.00" x2="430.82" y2="251.00" stroke="#9ccbea" stroke-width="0.75" stroke-opacity="0.38"/>
<line x1="426.43" y1="259.00" x2="430.82" y2="259.00" stroke="#9ccbea" stroke-width="0.75" stroke-opacity="0.38"/>
<line x1="440.18" y1="244.00" x2="440.18" y2="256.00" stroke="#9ccbea" stroke-width="0.75" stroke-opacity="0.38"/>
<line x1="437.98" y1="244.00" x2="442.38" y2="244.00" stroke="#9ccbea" stroke-width="0.75" stroke-opacity="0.38"/>
<line x1="437.98" y1="256.00" x2="442.38" y2="256.00" stroke="#9ccbea" stroke-width="0.75" stroke-opacity="0.38"/>
<line x1="455.60" y1="240.00" x2="455.60" y2="254.00" stroke="#9ccbea" stroke-width="0.75" stroke-opacity="0.38"/>
<line x1="453.40" y1="240.00" x2="457.80" y2="240.00" stroke="#9ccbea" stroke-width="0.75" stroke-opacity="0.38"/>
<line x1="453.40" y1="254.00" x2="457.80" y2="254.00" stroke="#9ccbea" stroke-width="0.75" stroke-opacity="0.38"/>
<line x1="467.16" y1="236.00" x2="467.16" y2="253.00" stroke="#9ccbea" stroke-width="0.75" stroke-opacity="0.38"/>
<line x1="464.96" y1="236.00" x2="469.36" y2="236.00" stroke="#9ccbea" stroke-width="0.75" stroke-opacity="0.38"/>
<line x1="464.96" y1="253.00" x2="469.36" y2="253.00" stroke="#9ccbea" stroke-width="0.75" stroke-opacity="0.38"/>
<line x1="482.57" y1="242.00" x2="482.57" y2="257.00" stroke="#9ccbea" stroke-width="0.75" stroke-opacity="0.38"/>
<line x1="480.37" y1="242.00" x2="484.77" y2="242.00" stroke="#9ccbea" stroke-width="0.75" stroke-opacity="0.38"/>
<line x1="480.37" y1="257.00" x2="484.77" y2="257.00" stroke="#9ccbea" stroke-width="0.75" stroke-opacity="0.38"/>
<line x1="494.13" y1="236.00" x2="494.13" y2="254.00" stroke="#9ccbea" stroke-width="0.75" stroke-opacity="0.38"/>
<line x1="491.93" y1="236.00" x2="496.33" y2="236.00" stroke="#9ccbea" stroke-width="0.75" stroke-opacity="0.38"/>
<line x1="491.93" y1="254.00" x2="496.33" y2="254.00" stroke="#9ccbea" stroke-width="0.75" stroke-opacity="0.38"/>
<line x1="509.54" y1="243.00" x2="509.54" y2="258.00" stroke="#9ccbea" stroke-width="0.75" stroke-opacity="0.38"/>
<line x1="507.34" y1="243.00" x2="511.74" y2="243.00" stroke="#9ccbea" stroke-width="0.75" stroke-opacity="0.38"/>
<line x1="507.34" y1="258.00" x2="511.74" y2="258.00" stroke="#9ccbea" stroke-width="0.75" stroke-opacity="0.38"/>
<line x1="521.10" y1="246.00" x2="521.10" y2="259.00" stroke="#9ccbea" stroke-width="0.75" stroke-opacity="0.38"/>
<line x1="518.90" y1="246.00" x2="523.30" y2="246.00" stroke="#9ccbea" stroke-width="0.75" stroke-opacity="0.38"/>
<line x1="518.90" y1="259.00" x2="523.30" y2="259.00" stroke="#9ccbea" stroke-width="0.75" stroke-opacity="0.38"/>
<line x1="390.10" y1="250.00" x2="390.10" y2="259.00" stroke="#5aa6df" stroke-width="0.75" stroke-opacity="0.38"/>
<line x1="387.90" y1="250.00" x2="392.30" y2="250.00" stroke="#5aa6df" stroke-width="0.75" stroke-opacity="0.38"/>
<line x1="387.90" y1="259.00" x2="392.30" y2="259.00" stroke="#5aa6df" stroke-width="0.75" stroke-opacity="0.38"/>
<line x1="401.65" y1="250.00" x2="401.65" y2="259.00" stroke="#5aa6df" stroke-width="0.75" stroke-opacity="0.38"/>
<line x1="399.45" y1="250.00" x2="403.85" y2="250.00" stroke="#5aa6df" stroke-width="0.75" stroke-opacity="0.38"/>
<line x1="399.45" y1="259.00" x2="403.85" y2="259.00" stroke="#5aa6df" stroke-width="0.75" stroke-opacity="0.38"/>
<line x1="413.21" y1="244.00" x2="413.21" y2="256.00" stroke="#5aa6df" stroke-width="0.75" stroke-opacity="0.38"/>
<line x1="411.01" y1="244.00" x2="415.41" y2="244.00" stroke="#5aa6df" stroke-width="0.75" stroke-opacity="0.38"/>
<line x1="411.01" y1="256.00" x2="415.41" y2="256.00" stroke="#5aa6df" stroke-width="0.75" stroke-opacity="0.38"/>
<line x1="428.62" y1="236.00" x2="428.62" y2="250.00" stroke="#5aa6df" stroke-width="0.75" stroke-opacity="0.38"/>
<line x1="426.43" y1="236.00" x2="430.82" y2="236.00" stroke="#5aa6df" stroke-width="0.75" stroke-opacity="0.38"/>
<line x1="426.43" y1="250.00" x2="430.82" y2="250.00" stroke="#5aa6df" stroke-width="0.75" stroke-opacity="0.38"/>
<line x1="440.18" y1="225.00" x2="440.18" y2="246.00" stroke="#5aa6df" stroke-width="0.75" stroke-opacity="0.38"/>
<line x1="437.98" y1="225.00" x2="442.38" y2="225.00" stroke="#5aa6df" stroke-width="0.75" stroke-opacity="0.38"/>
<line x1="437.98" y1="246.00" x2="442.38" y2="246.00" stroke="#5aa6df" stroke-width="0.75" stroke-opacity="0.38"/>
<line x1="455.60" y1="218.00" x2="455.60" y2="240.00" stroke="#5aa6df" stroke-width="0.75" stroke-opacity="0.38"/>
<line x1="453.40" y1="218.00" x2="457.80" y2="218.00" stroke="#5aa6df" stroke-width="0.75" stroke-opacity="0.38"/>
<line x1="453.40" y1="240.00" x2="457.80" y2="240.00" stroke="#5aa6df" stroke-width="0.75" stroke-opacity="0.38"/>
<line x1="467.16" y1="218.00" x2="467.16" y2="242.00" stroke="#5aa6df" stroke-width="0.75" stroke-opacity="0.38"/>
<line x1="464.96" y1="218.00" x2="469.36" y2="218.00" stroke="#5aa6df" stroke-width="0.75" stroke-opacity="0.38"/>
<line x1="464.96" y1="242.00" x2="469.36" y2="242.00" stroke="#5aa6df" stroke-width="0.75" stroke-opacity="0.38"/>
<line x1="482.57" y1="205.00" x2="482.57" y2="244.00" stroke="#5aa6df" stroke-width="0.75" stroke-opacity="0.38"/>
<line x1="480.37" y1="205.00" x2="484.77" y2="205.00" stroke="#5aa6df" stroke-width="0.75" stroke-opacity="0.38"/>
<line x1="480.37" y1="244.00" x2="484.77" y2="244.00" stroke="#5aa6df" stroke-width="0.75" stroke-opacity="0.38"/>
<line x1="494.13" y1="193.00" x2="494.13" y2="234.00" stroke="#5aa6df" stroke-width="0.75" stroke-opacity="0.38"/>
<line x1="491.93" y1="193.00" x2="496.33" y2="193.00" stroke="#5aa6df" stroke-width="0.75" stroke-opacity="0.38"/>
<line x1="491.93" y1="234.00" x2="496.33" y2="234.00" stroke="#5aa6df" stroke-width="0.75" stroke-opacity="0.38"/>
<line x1="509.54" y1="216.00" x2="509.54" y2="246.00" stroke="#5aa6df" stroke-width="0.75" stroke-opacity="0.38"/>
<line x1="507.34" y1="216.00" x2="511.74" y2="216.00" stroke="#5aa6df" stroke-width="0.75" stroke-opacity="0.38"/>
<line x1="507.34" y1="246.00" x2="511.74" y2="246.00" stroke="#5aa6df" stroke-width="0.75" stroke-opacity="0.38"/>
<line x1="521.10" y1="222.00" x2="521.10" y2="252.00" stroke="#5aa6df" stroke-width="0.75" stroke-opacity="0.38"/>
<line x1="518.90" y1="222.00" x2="523.30" y2="222.00" stroke="#5aa6df" stroke-width="0.75" stroke-opacity="0.38"/>
<line x1="518.90" y1="252.00" x2="523.30" y2="252.00" stroke="#5aa6df" stroke-width="0.75" stroke-opacity="0.38"/>
<line x1="390.10" y1="236.00" x2="390.10" y2="252.00" stroke="#1f8ad6" stroke-width="0.75" stroke-opacity="0.38"/>
<line x1="387.90" y1="236.00" x2="392.30" y2="236.00" stroke="#1f8ad6" stroke-width="0.75" stroke-opacity="0.38"/>
<line x1="387.90" y1="252.00" x2="392.30" y2="252.00" stroke="#1f8ad6" stroke-width="0.75" stroke-opacity="0.38"/>
<line x1="401.65" y1="238.00" x2="401.65" y2="252.00" stroke="#1f8ad6" stroke-width="0.75" stroke-opacity="0.38"/>
<line x1="399.45" y1="238.00" x2="403.85" y2="238.00" stroke="#1f8ad6" stroke-width="0.75" stroke-opacity="0.38"/>
<line x1="399.45" y1="252.00" x2="403.85" y2="252.00" stroke="#1f8ad6" stroke-width="0.75" stroke-opacity="0.38"/>
<line x1="413.21" y1="236.00" x2="413.21" y2="248.00" stroke="#1f8ad6" stroke-width="0.75" stroke-opacity="0.38"/>
<line x1="411.01" y1="236.00" x2="415.41" y2="236.00" stroke="#1f8ad6" stroke-width="0.75" stroke-opacity="0.38"/>
<line x1="411.01" y1="248.00" x2="415.41" y2="248.00" stroke="#1f8ad6" stroke-width="0.75" stroke-opacity="0.38"/>
<line x1="428.62" y1="205.00" x2="428.62" y2="240.00" stroke="#1f8ad6" stroke-width="0.75" stroke-opacity="0.38"/>
<line x1="426.43" y1="205.00" x2="430.82" y2="205.00" stroke="#1f8ad6" stroke-width="0.75" stroke-opacity="0.38"/>
<line x1="426.43" y1="240.00" x2="430.82" y2="240.00" stroke="#1f8ad6" stroke-width="0.75" stroke-opacity="0.38"/>
<line x1="440.18" y1="186.00" x2="440.18" y2="222.00" stroke="#1f8ad6" stroke-width="0.75" stroke-opacity="0.38"/>
<line x1="437.98" y1="186.00" x2="442.38" y2="186.00" stroke="#1f8ad6" stroke-width="0.75" stroke-opacity="0.38"/>
<line x1="437.98" y1="222.00" x2="442.38" y2="222.00" stroke="#1f8ad6" stroke-width="0.75" stroke-opacity="0.38"/>
<line x1="455.60" y1="176.00" x2="455.60" y2="222.00" stroke="#1f8ad6" stroke-width="0.75" stroke-opacity="0.38"/>
<line x1="453.40" y1="176.00" x2="457.80" y2="176.00" stroke="#1f8ad6" stroke-width="0.75" stroke-opacity="0.38"/>
<line x1="453.40" y1="222.00" x2="457.80" y2="222.00" stroke="#1f8ad6" stroke-width="0.75" stroke-opacity="0.38"/>
<line x1="467.16" y1="160.00" x2="467.16" y2="220.00" stroke="#1f8ad6" stroke-width="0.75" stroke-opacity="0.38"/>
<line x1="464.96" y1="160.00" x2="469.36" y2="160.00" stroke="#1f8ad6" stroke-width="0.75" stroke-opacity="0.38"/>
<line x1="464.96" y1="220.00" x2="469.36" y2="220.00" stroke="#1f8ad6" stroke-width="0.75" stroke-opacity="0.38"/>
<line x1="482.57" y1="166.00" x2="482.57" y2="210.00" stroke="#1f8ad6" stroke-width="0.75" stroke-opacity="0.38"/>
<line x1="480.37" y1="166.00" x2="484.77" y2="166.00" stroke="#1f8ad6" stroke-width="0.75" stroke-opacity="0.38"/>
<line x1="480.37" y1="210.00" x2="484.77" y2="210.00" stroke="#1f8ad6" stroke-width="0.75" stroke-opacity="0.38"/>
<line x1="494.13" y1="135.00" x2="494.13" y2="190.00" stroke="#1f8ad6" stroke-width="0.75" stroke-opacity="0.38"/>
<line x1="491.93" y1="135.00" x2="496.33" y2="135.00" stroke="#1f8ad6" stroke-width="0.75" stroke-opacity="0.38"/>
<line x1="491.93" y1="190.00" x2="496.33" y2="190.00" stroke="#1f8ad6" stroke-width="0.75" stroke-opacity="0.38"/>
<line x1="509.54" y1="165.00" x2="509.54" y2="208.00" stroke="#1f8ad6" stroke-width="0.75" stroke-opacity="0.38"/>
<line x1="507.34" y1="165.00" x2="511.74" y2="165.00" stroke="#1f8ad6" stroke-width="0.75" stroke-opacity="0.38"/>
<line x1="507.34" y1="208.00" x2="511.74" y2="208.00" stroke="#1f8ad6" stroke-width="0.75" stroke-opacity="0.38"/>
<line x1="521.10" y1="170.00" x2="521.10" y2="220.00" stroke="#1f8ad6" stroke-width="0.75" stroke-opacity="0.38"/>
<line x1="518.90" y1="170.00" x2="523.30" y2="170.00" stroke="#1f8ad6" stroke-width="0.75" stroke-opacity="0.38"/>
<line x1="518.90" y1="220.00" x2="523.30" y2="220.00" stroke="#1f8ad6" stroke-width="0.75" stroke-opacity="0.38"/>
<line x1="390.10" y1="234.40" x2="390.10" y2="252.00" stroke="#1b5f93" stroke-width="0.75" stroke-opacity="0.38"/>
<line x1="387.90" y1="234.40" x2="392.30" y2="234.40" stroke="#1b5f93" stroke-width="0.75" stroke-opacity="0.38"/>
<line x1="387.90" y1="252.00" x2="392.30" y2="252.00" stroke="#1b5f93" stroke-width="0.75" stroke-opacity="0.38"/>
<line x1="401.65" y1="238.00" x2="401.65" y2="251.00" stroke="#1b5f93" stroke-width="0.75" stroke-opacity="0.38"/>
<line x1="399.45" y1="238.00" x2="403.85" y2="238.00" stroke="#1b5f93" stroke-width="0.75" stroke-opacity="0.38"/>
<line x1="399.45" y1="251.00" x2="403.85" y2="251.00" stroke="#1b5f93" stroke-width="0.75" stroke-opacity="0.38"/>
<line x1="413.21" y1="236.00" x2="413.21" y2="248.00" stroke="#1b5f93" stroke-width="0.75" stroke-opacity="0.38"/>
<line x1="411.01" y1="236.00" x2="415.41" y2="236.00" stroke="#1b5f93" stroke-width="0.75" stroke-opacity="0.38"/>
<line x1="411.01" y1="248.00" x2="415.41" y2="248.00" stroke="#1b5f93" stroke-width="0.75" stroke-opacity="0.38"/>
<line x1="428.62" y1="197.00" x2="428.62" y2="232.00" stroke="#1b5f93" stroke-width="0.75" stroke-opacity="0.38"/>
<line x1="426.43" y1="197.00" x2="430.82" y2="197.00" stroke="#1b5f93" stroke-width="0.75" stroke-opacity="0.38"/>
<line x1="426.43" y1="232.00" x2="430.82" y2="232.00" stroke="#1b5f93" stroke-width="0.75" stroke-opacity="0.38"/>
<line x1="440.18" y1="181.00" x2="440.18" y2="218.00" stroke="#1b5f93" stroke-width="0.75" stroke-opacity="0.38"/>
<line x1="437.98" y1="181.00" x2="442.38" y2="181.00" stroke="#1b5f93" stroke-width="0.75" stroke-opacity="0.38"/>
<line x1="437.98" y1="218.00" x2="442.38" y2="218.00" stroke="#1b5f93" stroke-width="0.75" stroke-opacity="0.38"/>
<line x1="455.60" y1="173.60" x2="455.60" y2="223.00" stroke="#1b5f93" stroke-width="0.75" stroke-opacity="0.38"/>
<line x1="453.40" y1="173.60" x2="457.80" y2="173.60" stroke="#1b5f93" stroke-width="0.75" stroke-opacity="0.38"/>
<line x1="453.40" y1="223.00" x2="457.80" y2="223.00" stroke="#1b5f93" stroke-width="0.75" stroke-opacity="0.38"/>
<line x1="467.16" y1="147.00" x2="467.16" y2="204.00" stroke="#1b5f93" stroke-width="0.75" stroke-opacity="0.38"/>
<line x1="464.96" y1="147.00" x2="469.36" y2="147.00" stroke="#1b5f93" stroke-width="0.75" stroke-opacity="0.38"/>
<line x1="464.96" y1="204.00" x2="469.36" y2="204.00" stroke="#1b5f93" stroke-width="0.75" stroke-opacity="0.38"/>
<line x1="482.57" y1="164.00" x2="482.57" y2="207.00" stroke="#1b5f93" stroke-width="0.75" stroke-opacity="0.38"/>
<line x1="480.37" y1="164.00" x2="484.77" y2="164.00" stroke="#1b5f93" stroke-width="0.75" stroke-opacity="0.38"/>
<line x1="480.37" y1="207.00" x2="484.77" y2="207.00" stroke="#1b5f93" stroke-width="0.75" stroke-opacity="0.38"/>
<line x1="494.13" y1="96.00" x2="494.13" y2="181.00" stroke="#1b5f93" stroke-width="0.75" stroke-opacity="0.38"/>
<line x1="491.93" y1="96.00" x2="496.33" y2="96.00" stroke="#1b5f93" stroke-width="0.75" stroke-opacity="0.38"/>
<line x1="491.93" y1="181.00" x2="496.33" y2="181.00" stroke="#1b5f93" stroke-width="0.75" stroke-opacity="0.38"/>
<line x1="509.54" y1="162.00" x2="509.54" y2="206.00" stroke="#1b5f93" stroke-width="0.75" stroke-opacity="0.38"/>
<line x1="507.34" y1="162.00" x2="511.74" y2="162.00" stroke="#1b5f93" stroke-width="0.75" stroke-opacity="0.38"/>
<line x1="507.34" y1="206.00" x2="511.74" y2="206.00" stroke="#1b5f93" stroke-width="0.75" stroke-opacity="0.38"/>
<line x1="521.10" y1="165.00" x2="521.10" y2="216.00" stroke="#1b5f93" stroke-width="0.75" stroke-opacity="0.38"/>
<line x1="518.90" y1="165.00" x2="523.30" y2="165.00" stroke="#1b5f93" stroke-width="0.75" stroke-opacity="0.38"/>
<line x1="518.90" y1="216.00" x2="523.30" y2="216.00" stroke="#1b5f93" stroke-width="0.75" stroke-opacity="0.38"/>
<polyline points="332.30,262.00 347.71,262.00 363.12,262.00 378.54,262.00 390.10,261.00 401.65,260.00 413.21,258.00 428.62,255.60 440.18,250.60 455.60,247.00 467.16,244.60 482.57,250.00 494.13,245.00 509.54,251.00 521.10,253.00" fill="none" stroke="#9ccbea" stroke-width="1.0" stroke-linejoin="miter"/>
<polygon points="332.30,259.90 334.31,263.49 330.29,263.49" fill="#9ccbea"/>
<polygon points="347.71,259.90 349.72,263.49 345.70,263.49" fill="#9ccbea"/>
<polygon points="363.12,259.90 365.14,263.49 361.11,263.49" fill="#9ccbea"/>
<polygon points="378.54,259.90 380.55,263.49 376.52,263.49" fill="#9ccbea"/>
<polygon points="390.10,258.90 392.11,262.49 388.08,262.49" fill="#9ccbea"/>
<polygon points="401.65,257.90 403.67,261.49 399.64,261.49" fill="#9ccbea"/>
<polygon points="413.21,255.90 415.23,259.49 411.20,259.49" fill="#9ccbea"/>
<polygon points="428.62,253.50 430.64,257.09 426.61,257.09" fill="#9ccbea"/>
<polygon points="440.18,248.50 442.20,252.09 438.17,252.09" fill="#9ccbea"/>
<polygon points="455.60,244.90 457.61,248.49 453.58,248.49" fill="#9ccbea"/>
<polygon points="467.16,242.50 469.17,246.09 465.14,246.09" fill="#9ccbea"/>
<polygon points="482.57,247.90 484.58,251.49 480.55,251.49" fill="#9ccbea"/>
<polygon points="494.13,242.90 496.14,246.49 492.11,246.49" fill="#9ccbea"/>
<polygon points="509.54,248.90 511.55,252.49 507.53,252.49" fill="#9ccbea"/>
<polygon points="521.10,250.90 523.11,254.49 519.08,254.49" fill="#9ccbea"/>
<polyline points="332.30,261.00 347.71,262.00 363.12,262.00 378.54,261.00 390.10,255.60 401.65,255.60 413.21,250.40 428.62,243.00 440.18,233.60 455.60,228.40 467.16,230.00 482.57,224.40 494.13,214.00 509.54,231.00 521.10,237.60" fill="none" stroke="#5aa6df" stroke-width="1.0" stroke-linejoin="miter"/>
<polygon points="332.30,258.90 334.40,261.00 332.30,263.10 330.20,261.00" fill="#5aa6df"/>
<polygon points="347.71,259.90 349.81,262.00 347.71,264.10 345.61,262.00" fill="#5aa6df"/>
<polygon points="363.12,259.90 365.22,262.00 363.12,264.10 361.02,262.00" fill="#5aa6df"/>
<polygon points="378.54,258.90 380.64,261.00 378.54,263.10 376.44,261.00" fill="#5aa6df"/>
<polygon points="390.10,253.50 392.20,255.60 390.10,257.70 388.00,255.60" fill="#5aa6df"/>
<polygon points="401.65,253.50 403.75,255.60 401.65,257.70 399.55,255.60" fill="#5aa6df"/>
<polygon points="413.21,248.30 415.31,250.40 413.21,252.50 411.11,250.40" fill="#5aa6df"/>
<polygon points="428.62,240.90 430.73,243.00 428.62,245.10 426.52,243.00" fill="#5aa6df"/>
<polygon points="440.18,231.50 442.28,233.60 440.18,235.70 438.08,233.60" fill="#5aa6df"/>
<polygon points="455.60,226.30 457.70,228.40 455.60,230.50 453.50,228.40" fill="#5aa6df"/>
<polygon points="467.16,227.90 469.26,230.00 467.16,232.10 465.06,230.00" fill="#5aa6df"/>
<polygon points="482.57,222.30 484.67,224.40 482.57,226.50 480.47,224.40" fill="#5aa6df"/>
<polygon points="494.13,211.90 496.23,214.00 494.13,216.10 492.03,214.00" fill="#5aa6df"/>
<polygon points="509.54,228.90 511.64,231.00 509.54,233.10 507.44,231.00" fill="#5aa6df"/>
<polygon points="521.10,235.50 523.20,237.60 521.10,239.70 519.00,237.60" fill="#5aa6df"/>
<polyline points="332.30,260.00 347.71,262.00 363.12,262.00 378.54,259.00 390.10,244.00 401.65,245.60 413.21,242.00 428.62,222.40 440.18,205.00 455.60,198.40 467.16,190.40 482.57,188.40 494.13,162.00 509.54,186.40 521.10,195.60" fill="none" stroke="#1f8ad6" stroke-width="1.0" stroke-linejoin="miter"/>
<circle cx="332.30" cy="260.00" r="1.75" fill="#1f8ad6"/>
<circle cx="347.71" cy="262.00" r="1.75" fill="#1f8ad6"/>
<circle cx="363.12" cy="262.00" r="1.75" fill="#1f8ad6"/>
<circle cx="378.54" cy="259.00" r="1.75" fill="#1f8ad6"/>
<circle cx="390.10" cy="244.00" r="1.75" fill="#1f8ad6"/>
<circle cx="401.65" cy="245.60" r="1.75" fill="#1f8ad6"/>
<circle cx="413.21" cy="242.00" r="1.75" fill="#1f8ad6"/>
<circle cx="428.62" cy="222.40" r="1.75" fill="#1f8ad6"/>
<circle cx="440.18" cy="205.00" r="1.75" fill="#1f8ad6"/>
<circle cx="455.60" cy="198.40" r="1.75" fill="#1f8ad6"/>
<circle cx="467.16" cy="190.40" r="1.75" fill="#1f8ad6"/>
<circle cx="482.57" cy="188.40" r="1.75" fill="#1f8ad6"/>
<circle cx="494.13" cy="162.00" r="1.75" fill="#1f8ad6"/>
<circle cx="509.54" cy="186.40" r="1.75" fill="#1f8ad6"/>
<circle cx="521.10" cy="195.60" r="1.75" fill="#1f8ad6"/>
<polyline points="332.30,258.00 347.71,261.00 363.12,261.00 378.54,257.60 390.10,242.40 401.65,245.00 413.21,241.60 428.62,214.40 440.18,200.40 455.60,198.40 467.16,176.00 482.57,185.00 494.13,138.40 509.54,183.60 521.10,184.00" fill="none" stroke="#1b5f93" stroke-width="1.0" stroke-linejoin="miter"/>
<rect x="330.55" y="256.25" width="3.50" height="3.50" fill="#1b5f93"/>
<rect x="345.96" y="259.25" width="3.50" height="3.50" fill="#1b5f93"/>
<rect x="361.37" y="259.25" width="3.50" height="3.50" fill="#1b5f93"/>
<rect x="376.79" y="255.85" width="3.50" height="3.50" fill="#1b5f93"/>
<rect x="388.35" y="240.65" width="3.50" height="3.50" fill="#1b5f93"/>
<rect x="399.90" y="243.25" width="3.50" height="3.50" fill="#1b5f93"/>
<rect x="411.46" y="239.85" width="3.50" height="3.50" fill="#1b5f93"/>
<rect x="426.88" y="212.65" width="3.50" height="3.50" fill="#1b5f93"/>
<rect x="438.43" y="198.65" width="3.50" height="3.50" fill="#1b5f93"/>
<rect x="453.85" y="196.65" width="3.50" height="3.50" fill="#1b5f93"/>
<rect x="465.41" y="174.25" width="3.50" height="3.50" fill="#1b5f93"/>
<rect x="480.82" y="183.25" width="3.50" height="3.50" fill="#1b5f93"/>
<rect x="492.38" y="136.65" width="3.50" height="3.50" fill="#1b5f93"/>
<rect x="507.79" y="181.85" width="3.50" height="3.50" fill="#1b5f93"/>
<rect x="519.35" y="182.25" width="3.50" height="3.50" fill="#1b5f93"/>
<rect x="334.00" y="78.00" width="130.90" height="53.40" fill="#fff" stroke="#333" stroke-width="1"/>
<line x1="334.00" y1="88.50" x2="464.90" y2="88.50" stroke="#333" stroke-width="0.9"/>
<line x1="334.00" y1="99.30" x2="464.90" y2="99.30" stroke="#333" stroke-width="0.9"/>
<line x1="334.00" y1="110.20" x2="464.90" y2="110.20" stroke="#333" stroke-width="0.9"/>
<line x1="334.00" y1="120.90" x2="464.90" y2="120.90" stroke="#333" stroke-width="0.9"/>
<line x1="412.50" y1="78.00" x2="412.50" y2="131.40" stroke="#333" stroke-width="0.9"/>
<text x="373.25" y="85.95" font-size="7.524" font-weight="bold" text-anchor="middle" fill="#111" style="stroke:none">Comparison</text>
<text x="438.70" y="85.95" font-size="7.524" font-weight="bold" text-anchor="middle" fill="#111" style="stroke:none">Significance</text>
<text x="337.00" y="96.30" font-size="7.6" font-weight="normal" text-anchor="start" fill="#222">0.5 × 10<tspan dy="-2.6" font-size="4.6">6</tspan><tspan dy="2.6"> vs 2.0 × 10</tspan><tspan dy="-2.6" font-size="4.6">6</tspan></text>
<text x="438.70" y="95.80" font-size="7.4479999999999995" font-weight="normal" text-anchor="middle" fill="#111" stroke="#111" stroke-width="0.25">****</text>
<text x="337.00" y="107.15" font-size="7.6" font-weight="normal" text-anchor="start" fill="#222">0.5 × 10<tspan dy="-2.6" font-size="4.6">6</tspan><tspan dy="2.6"> vs 2.5 × 10</tspan><tspan dy="-2.6" font-size="4.6">6</tspan></text>
<text x="438.70" y="106.65" font-size="7.4479999999999995" font-weight="normal" text-anchor="middle" fill="#111" stroke="#111" stroke-width="0.25">****</text>
<text x="337.00" y="117.95" font-size="7.6" font-weight="normal" text-anchor="start" fill="#222">1.0 × 10<tspan dy="-2.6" font-size="4.6">6</tspan><tspan dy="2.6"> vs 2.0 × 10</tspan><tspan dy="-2.6" font-size="4.6">6</tspan></text>
<text x="438.70" y="117.45" font-size="7.4479999999999995" font-weight="normal" text-anchor="middle" fill="#111" stroke="#111" stroke-width="0.25">****</text>
<text x="337.00" y="128.55" font-size="7.6" font-weight="normal" text-anchor="start" fill="#222">1.0 × 10<tspan dy="-2.6" font-size="4.6">6</tspan><tspan dy="2.6"> vs 2.5 × 10</tspan><tspan dy="-2.6" font-size="4.6">6</tspan></text>
<text x="438.70" y="128.05" font-size="7.4479999999999995" font-weight="normal" text-anchor="middle" fill="#111" stroke="#111" stroke-width="0.25">****</text>
<line x1="66.50" y1="299.13" x2="66.50" y2="530.20" stroke="#222" stroke-width="1.0"/>
<line x1="63.50" y1="530.20" x2="66.50" y2="530.20" stroke="#222" stroke-width="1.0"/>
<text x="62.80" y="533.20" font-size="8.9" font-weight="bold" text-anchor="end" fill="#111">0.0</text>
<line x1="63.50" y1="504.53" x2="66.50" y2="504.53" stroke="#222" stroke-width="1.0"/>
<text x="62.80" y="507.53" font-size="8.9" font-weight="bold" text-anchor="end" fill="#111">2.5</text>
<line x1="63.50" y1="478.85" x2="66.50" y2="478.85" stroke="#222" stroke-width="1.0"/>
<text x="62.80" y="481.85" font-size="8.9" font-weight="bold" text-anchor="end" fill="#111">5.0</text>
<line x1="63.50" y1="453.18" x2="66.50" y2="453.18" stroke="#222" stroke-width="1.0"/>
<text x="62.80" y="456.18" font-size="8.9" font-weight="bold" text-anchor="end" fill="#111">7.5</text>
<line x1="63.50" y1="427.50" x2="66.50" y2="427.50" stroke="#222" stroke-width="1.0"/>
<text x="62.80" y="430.50" font-size="8.9" font-weight="bold" text-anchor="end" fill="#111">10.0</text>
<line x1="63.50" y1="401.83" x2="66.50" y2="401.83" stroke="#222" stroke-width="1.0"/>
<text x="62.80" y="404.83" font-size="8.9" font-weight="bold" text-anchor="end" fill="#111">12.5</text>
<line x1="63.50" y1="376.15" x2="66.50" y2="376.15" stroke="#222" stroke-width="1.0"/>
<text x="62.80" y="379.15" font-size="8.9" font-weight="bold" text-anchor="end" fill="#111">15.0</text>
<line x1="63.50" y1="350.48" x2="66.50" y2="350.48" stroke="#222" stroke-width="1.0"/>
<text x="62.80" y="353.48" font-size="8.9" font-weight="bold" text-anchor="end" fill="#111">17.5</text>
<line x1="63.50" y1="324.80" x2="66.50" y2="324.80" stroke="#222" stroke-width="1.0"/>
<text x="62.80" y="327.80" font-size="8.9" font-weight="bold" text-anchor="end" fill="#111">20.0</text>
<line x1="63.50" y1="299.13" x2="66.50" y2="299.13" stroke="#222" stroke-width="1.0"/>
<text x="62.80" y="302.13" font-size="8.9" font-weight="bold" text-anchor="end" fill="#111">22.5</text>
<line x1="64.70" y1="517.36" x2="66.50" y2="517.36" stroke="#222" stroke-width="0.9"/>
<line x1="64.70" y1="491.69" x2="66.50" y2="491.69" stroke="#222" stroke-width="0.9"/>
<line x1="64.70" y1="466.01" x2="66.50" y2="466.01" stroke="#222" stroke-width="0.9"/>
<line x1="64.70" y1="440.34" x2="66.50" y2="440.34" stroke="#222" stroke-width="0.9"/>
<line x1="64.70" y1="414.66" x2="66.50" y2="414.66" stroke="#222" stroke-width="0.9"/>
<line x1="64.70" y1="388.99" x2="66.50" y2="388.99" stroke="#222" stroke-width="0.9"/>
<line x1="64.70" y1="363.31" x2="66.50" y2="363.31" stroke="#222" stroke-width="0.9"/>
<line x1="64.70" y1="337.64" x2="66.50" y2="337.64" stroke="#222" stroke-width="0.9"/>
<line x1="64.70" y1="311.96" x2="66.50" y2="311.96" stroke="#222" stroke-width="0.9"/>
<line x1="66.30" y1="530.20" x2="258.70" y2="530.20" stroke="#222" stroke-width="1.0"/>
<line x1="66.30" y1="530.20" x2="66.30" y2="533.00" stroke="#222" stroke-width="1.0"/>
<text x="66.30" y="542.40" font-size="8.9" font-weight="bold" text-anchor="middle" fill="#111">0</text>
<line x1="103.30" y1="530.20" x2="103.30" y2="533.00" stroke="#222" stroke-width="1.0"/>
<text x="103.30" y="542.40" font-size="8.9" font-weight="bold" text-anchor="middle" fill="#111">5</text>
<line x1="140.30" y1="530.20" x2="140.30" y2="533.00" stroke="#222" stroke-width="1.0"/>
<text x="140.30" y="542.40" font-size="8.9" font-weight="bold" text-anchor="middle" fill="#111">10</text>
<line x1="177.30" y1="530.20" x2="177.30" y2="533.00" stroke="#222" stroke-width="1.0"/>
<text x="177.30" y="542.40" font-size="8.9" font-weight="bold" text-anchor="middle" fill="#111">15</text>
<line x1="214.30" y1="530.20" x2="214.30" y2="533.00" stroke="#222" stroke-width="1.0"/>
<text x="214.30" y="542.40" font-size="8.9" font-weight="bold" text-anchor="middle" fill="#111">20</text>
<line x1="251.30" y1="530.20" x2="251.30" y2="533.00" stroke="#222" stroke-width="1.0"/>
<text x="251.30" y="542.40" font-size="8.9" font-weight="bold" text-anchor="middle" fill="#111">25</text>
<line x1="84.80" y1="530.20" x2="84.80" y2="531.80" stroke="#222" stroke-width="0.9"/>
<line x1="121.80" y1="530.20" x2="121.80" y2="531.80" stroke="#222" stroke-width="0.9"/>
<line x1="158.80" y1="530.20" x2="158.80" y2="531.80" stroke="#222" stroke-width="0.9"/>
<line x1="195.80" y1="530.20" x2="195.80" y2="531.80" stroke="#222" stroke-width="0.9"/>
<line x1="232.80" y1="530.20" x2="232.80" y2="531.80" stroke="#222" stroke-width="0.9"/>
<text x="162.00" y="553.60" font-size="9.7" font-weight="bold" text-anchor="middle" fill="#111">days of cultivation</text>
<text x="38.00" y="413.00" font-size="9.7" font-weight="bold" text-anchor="middle" fill="#111" transform="rotate(-90 38.00 413.00)">NK cell expansion fold</text>
<line x1="155.10" y1="521.98" x2="155.10" y2="527.12" stroke="#ee9a5a" stroke-width="0.75" stroke-opacity="0.38"/>
<line x1="152.90" y1="521.98" x2="157.30" y2="521.98" stroke="#ee9a5a" stroke-width="0.75" stroke-opacity="0.38"/>
<line x1="152.90" y1="527.12" x2="157.30" y2="527.12" stroke="#ee9a5a" stroke-width="0.75" stroke-opacity="0.38"/>
<line x1="177.30" y1="512.74" x2="177.30" y2="518.90" stroke="#ee9a5a" stroke-width="0.75" stroke-opacity="0.38"/>
<line x1="175.10" y1="512.74" x2="179.50" y2="512.74" stroke="#ee9a5a" stroke-width="0.75" stroke-opacity="0.38"/>
<line x1="175.10" y1="518.90" x2="179.50" y2="518.90" stroke="#ee9a5a" stroke-width="0.75" stroke-opacity="0.38"/>
<line x1="199.50" y1="490.15" x2="199.50" y2="510.69" stroke="#ee9a5a" stroke-width="0.75" stroke-opacity="0.38"/>
<line x1="197.30" y1="490.15" x2="201.70" y2="490.15" stroke="#ee9a5a" stroke-width="0.75" stroke-opacity="0.38"/>
<line x1="197.30" y1="510.69" x2="201.70" y2="510.69" stroke="#ee9a5a" stroke-width="0.75" stroke-opacity="0.38"/>
<line x1="221.70" y1="443.70" x2="221.70" y2="498.00" stroke="#ee9a5a" stroke-width="0.75" stroke-opacity="0.38"/>
<line x1="219.50" y1="443.70" x2="223.90" y2="443.70" stroke="#ee9a5a" stroke-width="0.75" stroke-opacity="0.38"/>
<line x1="219.50" y1="498.00" x2="223.90" y2="498.00" stroke="#ee9a5a" stroke-width="0.75" stroke-opacity="0.38"/>
<line x1="251.30" y1="445.00" x2="251.30" y2="508.30" stroke="#ee9a5a" stroke-width="0.75" stroke-opacity="0.38"/>
<line x1="249.10" y1="445.00" x2="253.50" y2="445.00" stroke="#ee9a5a" stroke-width="0.75" stroke-opacity="0.38"/>
<line x1="249.10" y1="508.30" x2="253.50" y2="508.30" stroke="#ee9a5a" stroke-width="0.75" stroke-opacity="0.38"/>
<line x1="177.30" y1="490.15" x2="177.30" y2="505.55" stroke="#45b396" stroke-width="0.75" stroke-opacity="0.38"/>
<line x1="175.10" y1="490.15" x2="179.50" y2="490.15" stroke="#45b396" stroke-width="0.75" stroke-opacity="0.38"/>
<line x1="175.10" y1="505.55" x2="179.50" y2="505.55" stroke="#45b396" stroke-width="0.75" stroke-opacity="0.38"/>
<line x1="199.50" y1="490.15" x2="199.50" y2="500.42" stroke="#45b396" stroke-width="0.75" stroke-opacity="0.38"/>
<line x1="197.30" y1="490.15" x2="201.70" y2="490.15" stroke="#45b396" stroke-width="0.75" stroke-opacity="0.38"/>
<line x1="197.30" y1="500.42" x2="201.70" y2="500.42" stroke="#45b396" stroke-width="0.75" stroke-opacity="0.38"/>
<line x1="221.70" y1="486.04" x2="221.70" y2="502.80" stroke="#45b396" stroke-width="0.75" stroke-opacity="0.38"/>
<line x1="219.50" y1="486.04" x2="223.90" y2="486.04" stroke="#45b396" stroke-width="0.75" stroke-opacity="0.38"/>
<line x1="219.50" y1="502.80" x2="223.90" y2="502.80" stroke="#45b396" stroke-width="0.75" stroke-opacity="0.38"/>
<line x1="251.30" y1="432.64" x2="251.30" y2="473.72" stroke="#45b396" stroke-width="0.75" stroke-opacity="0.38"/>
<line x1="249.10" y1="432.64" x2="253.50" y2="432.64" stroke="#45b396" stroke-width="0.75" stroke-opacity="0.38"/>
<line x1="249.10" y1="473.72" x2="253.50" y2="473.72" stroke="#45b396" stroke-width="0.75" stroke-opacity="0.38"/>
<line x1="177.30" y1="473.30" x2="177.30" y2="498.80" stroke="#62a9e2" stroke-width="0.75" stroke-opacity="0.38"/>
<line x1="175.10" y1="473.30" x2="179.50" y2="473.30" stroke="#62a9e2" stroke-width="0.75" stroke-opacity="0.38"/>
<line x1="175.10" y1="498.80" x2="179.50" y2="498.80" stroke="#62a9e2" stroke-width="0.75" stroke-opacity="0.38"/>
<line x1="199.50" y1="476.00" x2="199.50" y2="504.00" stroke="#62a9e2" stroke-width="0.75" stroke-opacity="0.38"/>
<line x1="197.30" y1="476.00" x2="201.70" y2="476.00" stroke="#62a9e2" stroke-width="0.75" stroke-opacity="0.38"/>
<line x1="197.30" y1="504.00" x2="201.70" y2="504.00" stroke="#62a9e2" stroke-width="0.75" stroke-opacity="0.38"/>
<line x1="221.70" y1="475.77" x2="221.70" y2="496.31" stroke="#62a9e2" stroke-width="0.75" stroke-opacity="0.38"/>
<line x1="219.50" y1="475.77" x2="223.90" y2="475.77" stroke="#62a9e2" stroke-width="0.75" stroke-opacity="0.38"/>
<line x1="219.50" y1="496.31" x2="223.90" y2="496.31" stroke="#62a9e2" stroke-width="0.75" stroke-opacity="0.38"/>
<line x1="251.30" y1="424.80" x2="251.30" y2="482.70" stroke="#62a9e2" stroke-width="0.75" stroke-opacity="0.38"/>
<line x1="249.10" y1="424.80" x2="253.50" y2="424.80" stroke="#62a9e2" stroke-width="0.75" stroke-opacity="0.38"/>
<line x1="249.10" y1="482.70" x2="253.50" y2="482.70" stroke="#62a9e2" stroke-width="0.75" stroke-opacity="0.38"/>
<line x1="155.10" y1="482.96" x2="155.10" y2="507.61" stroke="#e35d80" stroke-width="0.75" stroke-opacity="0.38"/>
<line x1="152.90" y1="482.96" x2="157.30" y2="482.96" stroke="#e35d80" stroke-width="0.75" stroke-opacity="0.38"/>
<line x1="152.90" y1="507.61" x2="157.30" y2="507.61" stroke="#e35d80" stroke-width="0.75" stroke-opacity="0.38"/>
<line x1="177.30" y1="363.80" x2="177.30" y2="422.37" stroke="#e35d80" stroke-width="0.75" stroke-opacity="0.38"/>
<line x1="175.10" y1="363.80" x2="179.50" y2="363.80" stroke="#e35d80" stroke-width="0.75" stroke-opacity="0.38"/>
<line x1="175.10" y1="422.37" x2="179.50" y2="422.37" stroke="#e35d80" stroke-width="0.75" stroke-opacity="0.38"/>
<line x1="199.50" y1="413.50" x2="199.50" y2="427.50" stroke="#e35d80" stroke-width="0.75" stroke-opacity="0.38"/>
<line x1="197.30" y1="413.50" x2="201.70" y2="413.50" stroke="#e35d80" stroke-width="0.75" stroke-opacity="0.38"/>
<line x1="197.30" y1="427.50" x2="201.70" y2="427.50" stroke="#e35d80" stroke-width="0.75" stroke-opacity="0.38"/>
<line x1="221.70" y1="401.83" x2="221.70" y2="428.53" stroke="#e35d80" stroke-width="0.75" stroke-opacity="0.38"/>
<line x1="219.50" y1="401.83" x2="223.90" y2="401.83" stroke="#e35d80" stroke-width="0.75" stroke-opacity="0.38"/>
<line x1="219.50" y1="428.53" x2="223.90" y2="428.53" stroke="#e35d80" stroke-width="0.75" stroke-opacity="0.38"/>
<line x1="177.30" y1="419.00" x2="177.30" y2="450.80" stroke="#a3571f" stroke-width="0.75" stroke-opacity="0.38"/>
<line x1="175.10" y1="419.00" x2="179.50" y2="419.00" stroke="#a3571f" stroke-width="0.75" stroke-opacity="0.38"/>
<line x1="175.10" y1="450.80" x2="179.50" y2="450.80" stroke="#a3571f" stroke-width="0.75" stroke-opacity="0.38"/>
<line x1="199.50" y1="428.00" x2="199.50" y2="457.20" stroke="#a3571f" stroke-width="0.75" stroke-opacity="0.38"/>
<line x1="197.30" y1="428.00" x2="201.70" y2="428.00" stroke="#a3571f" stroke-width="0.75" stroke-opacity="0.38"/>
<line x1="197.30" y1="457.20" x2="201.70" y2="457.20" stroke="#a3571f" stroke-width="0.75" stroke-opacity="0.38"/>
<line x1="221.70" y1="401.70" x2="221.70" y2="436.60" stroke="#a3571f" stroke-width="0.75" stroke-opacity="0.38"/>
<line x1="219.50" y1="401.70" x2="223.90" y2="401.70" stroke="#a3571f" stroke-width="0.75" stroke-opacity="0.38"/>
<line x1="219.50" y1="436.60" x2="223.90" y2="436.60" stroke="#a3571f" stroke-width="0.75" stroke-opacity="0.38"/>
<line x1="251.30" y1="308.30" x2="251.30" y2="359.00" stroke="#a3571f" stroke-width="0.75" stroke-opacity="0.38"/>
<line x1="249.10" y1="308.30" x2="253.50" y2="308.30" stroke="#a3571f" stroke-width="0.75" stroke-opacity="0.38"/>
<line x1="249.10" y1="359.00" x2="253.50" y2="359.00" stroke="#a3571f" stroke-width="0.75" stroke-opacity="0.38"/>
<polyline points="66.30,519.93 95.90,518.08 125.50,525.07 155.10,524.76 177.30,515.92 199.50,499.80 221.70,468.37 251.30,476.59" fill="none" stroke="#ee9a5a" stroke-width="1.0" stroke-linejoin="miter"/>
<circle cx="66.30" cy="519.93" r="1.75" fill="#ee9a5a"/>
<circle cx="95.90" cy="518.08" r="1.75" fill="#ee9a5a"/>
<circle cx="125.50" cy="525.07" r="1.75" fill="#ee9a5a"/>
<circle cx="155.10" cy="524.76" r="1.75" fill="#ee9a5a"/>
<circle cx="177.30" cy="515.92" r="1.75" fill="#ee9a5a"/>
<circle cx="199.50" cy="499.80" r="1.75" fill="#ee9a5a"/>
<circle cx="221.70" cy="468.37" r="1.75" fill="#ee9a5a"/>
<circle cx="251.30" cy="476.59" r="1.75" fill="#ee9a5a"/>
<polyline points="66.30,519.93 95.90,515.92 125.50,517.77 155.10,521.88 177.30,498.05 199.50,495.28 221.70,493.84 251.30,453.59" fill="none" stroke="#45b396" stroke-width="1.0" stroke-linejoin="miter"/>
<circle cx="66.30" cy="519.93" r="1.75" fill="#45b396"/>
<circle cx="95.90" cy="515.92" r="1.75" fill="#45b396"/>
<circle cx="125.50" cy="517.77" r="1.75" fill="#45b396"/>
<circle cx="155.10" cy="521.88" r="1.75" fill="#45b396"/>
<circle cx="177.30" cy="498.05" r="1.75" fill="#45b396"/>
<circle cx="199.50" cy="495.28" r="1.75" fill="#45b396"/>
<circle cx="221.70" cy="493.84" r="1.75" fill="#45b396"/>
<circle cx="251.30" cy="453.59" r="1.75" fill="#45b396"/>
<polyline points="66.30,519.93 95.90,521.98 125.50,525.78 155.10,519.52 177.30,486.86 199.50,490.97 221.70,486.24 251.30,453.59" fill="none" stroke="#62a9e2" stroke-width="1.0" stroke-linejoin="miter"/>
<polygon points="66.30,517.83 68.40,519.93 66.30,522.03 64.20,519.93" fill="#62a9e2"/>
<polygon points="95.90,519.88 98.00,521.98 95.90,524.08 93.80,521.98" fill="#62a9e2"/>
<polygon points="125.50,523.68 127.60,525.78 125.50,527.88 123.40,525.78" fill="#62a9e2"/>
<polygon points="155.10,517.42 157.20,519.52 155.10,521.62 153.00,519.52" fill="#62a9e2"/>
<polygon points="177.30,484.76 179.40,486.86 177.30,488.96 175.20,486.86" fill="#62a9e2"/>
<polygon points="199.50,488.87 201.60,490.97 199.50,493.07 197.40,490.97" fill="#62a9e2"/>
<polygon points="221.70,484.14 223.80,486.24 221.70,488.34 219.60,486.24" fill="#62a9e2"/>
<polygon points="251.30,451.49 253.40,453.59 251.30,455.69 249.20,453.59" fill="#62a9e2"/>
<polyline points="66.30,519.93 95.90,514.80 125.50,513.77 155.10,494.97 177.30,392.58 199.50,420.31 221.70,415.18 251.30,333.02" fill="none" stroke="#e35d80" stroke-width="1.0" stroke-linejoin="miter"/>
<polygon points="66.30,517.83 68.31,521.42 64.29,521.42" fill="#e35d80"/>
<polygon points="95.90,512.70 97.91,516.28 93.89,516.28" fill="#e35d80"/>
<polygon points="125.50,511.67 127.51,515.26 123.49,515.26" fill="#e35d80"/>
<polygon points="155.10,492.87 157.11,496.46 153.09,496.46" fill="#e35d80"/>
<polygon points="177.30,390.48 179.31,394.07 175.29,394.07" fill="#e35d80"/>
<polygon points="199.50,418.21 201.51,421.80 197.49,421.80" fill="#e35d80"/>
<polygon points="221.70,413.08 223.71,416.66 219.69,416.66" fill="#e35d80"/>
<polygon points="251.30,330.92 253.31,334.50 249.29,334.50" fill="#e35d80"/>
<polyline points="66.30,519.93 95.90,508.84 125.50,511.61 155.10,514.80 177.30,435.10 199.50,442.19 221.70,418.77 251.30,334.04" fill="none" stroke="#a3571f" stroke-width="1.0" stroke-linejoin="miter"/>
<rect x="64.55" y="518.18" width="3.50" height="3.50" fill="#a3571f"/>
<rect x="94.15" y="507.09" width="3.50" height="3.50" fill="#a3571f"/>
<rect x="123.75" y="509.86" width="3.50" height="3.50" fill="#a3571f"/>
<rect x="153.35" y="513.05" width="3.50" height="3.50" fill="#a3571f"/>
<rect x="175.55" y="433.35" width="3.50" height="3.50" fill="#a3571f"/>
<rect x="197.75" y="440.44" width="3.50" height="3.50" fill="#a3571f"/>
<rect x="219.95" y="417.02" width="3.50" height="3.50" fill="#a3571f"/>
<rect x="249.55" y="332.29" width="3.50" height="3.50" fill="#a3571f"/>
<rect x="70.50" y="299.30" width="136.90" height="31.50" fill="#fff" stroke="#333" stroke-width="1"/>
<line x1="70.50" y1="309.90" x2="207.40" y2="309.90" stroke="#333" stroke-width="0.9"/>
<line x1="70.50" y1="320.50" x2="207.40" y2="320.50" stroke="#333" stroke-width="0.9"/>
<line x1="157.50" y1="299.30" x2="157.50" y2="330.80" stroke="#333" stroke-width="0.9"/>
<text x="114.00" y="307.30" font-size="7.524" font-weight="bold" text-anchor="middle" fill="#111" style="stroke:none">Comparison</text>
<text x="182.45" y="307.30" font-size="7.524" font-weight="bold" text-anchor="middle" fill="#111" style="stroke:none">Significance</text>
<text x="73.50" y="317.60" font-size="7.6" font-weight="normal" text-anchor="start" fill="#222">Donor 2 vs donor 1, 4, 5</text>
<text x="182.45" y="317.10" font-size="7.4479999999999995" font-weight="normal" text-anchor="middle" fill="#111" stroke="#111" stroke-width="0.25">****</text>
<text x="73.50" y="328.05" font-size="7.6" font-weight="normal" text-anchor="start" fill="#222">Donor 3 vs donor 1, 4, 5</text>
<text x="182.45" y="327.55" font-size="7.4479999999999995" font-weight="normal" text-anchor="middle" fill="#111" stroke="#111" stroke-width="0.25">****</text>
<line x1="330.50" y1="346.40" x2="330.50" y2="530.50" stroke="#222" stroke-width="1.0"/>
<line x1="327.50" y1="530.50" x2="330.50" y2="530.50" stroke="#222" stroke-width="1.0"/>
<text x="327.00" y="533.50" font-size="8.9" font-weight="bold" text-anchor="end" fill="#111">0.0</text>
<line x1="327.50" y1="504.20" x2="330.50" y2="504.20" stroke="#222" stroke-width="1.0"/>
<text x="327.00" y="507.20" font-size="8.9" font-weight="bold" text-anchor="end" fill="#111">2.5</text>
<line x1="327.50" y1="477.90" x2="330.50" y2="477.90" stroke="#222" stroke-width="1.0"/>
<text x="327.00" y="480.90" font-size="8.9" font-weight="bold" text-anchor="end" fill="#111">5.0</text>
<line x1="327.50" y1="451.60" x2="330.50" y2="451.60" stroke="#222" stroke-width="1.0"/>
<text x="327.00" y="454.60" font-size="8.9" font-weight="bold" text-anchor="end" fill="#111">7.5</text>
<line x1="327.50" y1="425.30" x2="330.50" y2="425.30" stroke="#222" stroke-width="1.0"/>
<text x="327.00" y="428.30" font-size="8.9" font-weight="bold" text-anchor="end" fill="#111">10.0</text>
<line x1="327.50" y1="399.00" x2="330.50" y2="399.00" stroke="#222" stroke-width="1.0"/>
<text x="327.00" y="402.00" font-size="8.9" font-weight="bold" text-anchor="end" fill="#111">12.5</text>
<line x1="327.50" y1="372.70" x2="330.50" y2="372.70" stroke="#222" stroke-width="1.0"/>
<text x="327.00" y="375.70" font-size="8.9" font-weight="bold" text-anchor="end" fill="#111">15.0</text>
<line x1="327.50" y1="346.40" x2="330.50" y2="346.40" stroke="#222" stroke-width="1.0"/>
<text x="327.00" y="349.40" font-size="8.9" font-weight="bold" text-anchor="end" fill="#111">17.5</text>
<line x1="328.70" y1="517.35" x2="330.50" y2="517.35" stroke="#222" stroke-width="0.9"/>
<line x1="328.70" y1="491.05" x2="330.50" y2="491.05" stroke="#222" stroke-width="0.9"/>
<line x1="328.70" y1="464.75" x2="330.50" y2="464.75" stroke="#222" stroke-width="0.9"/>
<line x1="328.70" y1="438.45" x2="330.50" y2="438.45" stroke="#222" stroke-width="0.9"/>
<line x1="328.70" y1="412.15" x2="330.50" y2="412.15" stroke="#222" stroke-width="0.9"/>
<line x1="328.70" y1="385.85" x2="330.50" y2="385.85" stroke="#222" stroke-width="0.9"/>
<line x1="328.70" y1="359.55" x2="330.50" y2="359.55" stroke="#222" stroke-width="0.9"/>
<line x1="330.50" y1="530.50" x2="521.60" y2="530.50" stroke="#222" stroke-width="1.0"/>
<line x1="330.50" y1="530.50" x2="330.50" y2="533.30" stroke="#222" stroke-width="1.0"/>
<text x="330.50" y="542.70" font-size="8.9" font-weight="bold" text-anchor="middle" fill="#111">0</text>
<line x1="367.25" y1="530.50" x2="367.25" y2="533.30" stroke="#222" stroke-width="1.0"/>
<text x="367.25" y="542.70" font-size="8.9" font-weight="bold" text-anchor="middle" fill="#111">5</text>
<line x1="404.00" y1="530.50" x2="404.00" y2="533.30" stroke="#222" stroke-width="1.0"/>
<text x="404.00" y="542.70" font-size="8.9" font-weight="bold" text-anchor="middle" fill="#111">10</text>
<line x1="440.75" y1="530.50" x2="440.75" y2="533.30" stroke="#222" stroke-width="1.0"/>
<text x="440.75" y="542.70" font-size="8.9" font-weight="bold" text-anchor="middle" fill="#111">15</text>
<line x1="477.50" y1="530.50" x2="477.50" y2="533.30" stroke="#222" stroke-width="1.0"/>
<text x="477.50" y="542.70" font-size="8.9" font-weight="bold" text-anchor="middle" fill="#111">20</text>
<line x1="514.25" y1="530.50" x2="514.25" y2="533.30" stroke="#222" stroke-width="1.0"/>
<text x="514.25" y="542.70" font-size="8.9" font-weight="bold" text-anchor="middle" fill="#111">25</text>
<line x1="348.88" y1="530.50" x2="348.88" y2="532.10" stroke="#222" stroke-width="0.9"/>
<line x1="385.62" y1="530.50" x2="385.62" y2="532.10" stroke="#222" stroke-width="0.9"/>
<line x1="422.38" y1="530.50" x2="422.38" y2="532.10" stroke="#222" stroke-width="0.9"/>
<line x1="459.12" y1="530.50" x2="459.12" y2="532.10" stroke="#222" stroke-width="0.9"/>
<line x1="495.88" y1="530.50" x2="495.88" y2="532.10" stroke="#222" stroke-width="0.9"/>
<text x="426.50" y="553.60" font-size="9.7" font-weight="bold" text-anchor="middle" fill="#111">days of cultivation</text>
<text x="303.20" y="437.00" font-size="9.7" font-weight="bold" text-anchor="middle" fill="#111" transform="rotate(-90 303.20 437.00)">NK cell expansion fold</text>
<line x1="359.90" y1="508.41" x2="359.90" y2="515.77" stroke="#9ccbea" stroke-width="0.75" stroke-opacity="0.38"/>
<line x1="357.70" y1="508.41" x2="362.10" y2="508.41" stroke="#9ccbea" stroke-width="0.75" stroke-opacity="0.38"/>
<line x1="357.70" y1="515.77" x2="362.10" y2="515.77" stroke="#9ccbea" stroke-width="0.75" stroke-opacity="0.38"/>
<line x1="418.70" y1="519.98" x2="418.70" y2="526.29" stroke="#9ccbea" stroke-width="0.75" stroke-opacity="0.38"/>
<line x1="416.50" y1="519.98" x2="420.90" y2="519.98" stroke="#9ccbea" stroke-width="0.75" stroke-opacity="0.38"/>
<line x1="416.50" y1="526.29" x2="420.90" y2="526.29" stroke="#9ccbea" stroke-width="0.75" stroke-opacity="0.38"/>
<line x1="440.75" y1="472.64" x2="440.75" y2="514.72" stroke="#9ccbea" stroke-width="0.75" stroke-opacity="0.38"/>
<line x1="438.55" y1="472.64" x2="442.95" y2="472.64" stroke="#9ccbea" stroke-width="0.75" stroke-opacity="0.38"/>
<line x1="438.55" y1="514.72" x2="442.95" y2="514.72" stroke="#9ccbea" stroke-width="0.75" stroke-opacity="0.38"/>
<line x1="462.80" y1="465.28" x2="462.80" y2="492.63" stroke="#9ccbea" stroke-width="0.75" stroke-opacity="0.38"/>
<line x1="460.60" y1="465.28" x2="465.00" y2="465.28" stroke="#9ccbea" stroke-width="0.75" stroke-opacity="0.38"/>
<line x1="460.60" y1="492.63" x2="465.00" y2="492.63" stroke="#9ccbea" stroke-width="0.75" stroke-opacity="0.38"/>
<line x1="484.85" y1="435.82" x2="484.85" y2="483.16" stroke="#9ccbea" stroke-width="0.75" stroke-opacity="0.38"/>
<line x1="482.65" y1="435.82" x2="487.05" y2="435.82" stroke="#9ccbea" stroke-width="0.75" stroke-opacity="0.38"/>
<line x1="482.65" y1="483.16" x2="487.05" y2="483.16" stroke="#9ccbea" stroke-width="0.75" stroke-opacity="0.38"/>
<line x1="514.25" y1="404.26" x2="514.25" y2="466.33" stroke="#9ccbea" stroke-width="0.75" stroke-opacity="0.38"/>
<line x1="512.05" y1="404.26" x2="516.45" y2="404.26" stroke="#9ccbea" stroke-width="0.75" stroke-opacity="0.38"/>
<line x1="512.05" y1="466.33" x2="516.45" y2="466.33" stroke="#9ccbea" stroke-width="0.75" stroke-opacity="0.38"/>
<line x1="359.90" y1="510.51" x2="359.90" y2="518.93" stroke="#5aa6df" stroke-width="0.75" stroke-opacity="0.38"/>
<line x1="357.70" y1="510.51" x2="362.10" y2="510.51" stroke="#5aa6df" stroke-width="0.75" stroke-opacity="0.38"/>
<line x1="357.70" y1="518.93" x2="362.10" y2="518.93" stroke="#5aa6df" stroke-width="0.75" stroke-opacity="0.38"/>
<line x1="440.75" y1="421.09" x2="440.75" y2="493.68" stroke="#5aa6df" stroke-width="0.75" stroke-opacity="0.38"/>
<line x1="438.55" y1="421.09" x2="442.95" y2="421.09" stroke="#5aa6df" stroke-width="0.75" stroke-opacity="0.38"/>
<line x1="438.55" y1="493.68" x2="442.95" y2="493.68" stroke="#5aa6df" stroke-width="0.75" stroke-opacity="0.38"/>
<line x1="462.80" y1="446.34" x2="462.80" y2="488.42" stroke="#5aa6df" stroke-width="0.75" stroke-opacity="0.38"/>
<line x1="460.60" y1="446.34" x2="465.00" y2="446.34" stroke="#5aa6df" stroke-width="0.75" stroke-opacity="0.38"/>
<line x1="460.60" y1="488.42" x2="465.00" y2="488.42" stroke="#5aa6df" stroke-width="0.75" stroke-opacity="0.38"/>
<line x1="484.85" y1="411.62" x2="484.85" y2="464.22" stroke="#5aa6df" stroke-width="0.75" stroke-opacity="0.38"/>
<line x1="482.65" y1="411.62" x2="487.05" y2="411.62" stroke="#5aa6df" stroke-width="0.75" stroke-opacity="0.38"/>
<line x1="482.65" y1="464.22" x2="487.05" y2="464.22" stroke="#5aa6df" stroke-width="0.75" stroke-opacity="0.38"/>
<line x1="514.25" y1="360.08" x2="514.25" y2="442.13" stroke="#5aa6df" stroke-width="0.75" stroke-opacity="0.38"/>
<line x1="512.05" y1="360.08" x2="516.45" y2="360.08" stroke="#5aa6df" stroke-width="0.75" stroke-opacity="0.38"/>
<line x1="512.05" y1="442.13" x2="516.45" y2="442.13" stroke="#5aa6df" stroke-width="0.75" stroke-opacity="0.38"/>
<line x1="389.30" y1="514.72" x2="389.30" y2="521.03" stroke="#1f8ad6" stroke-width="0.75" stroke-opacity="0.38"/>
<line x1="387.10" y1="514.72" x2="391.50" y2="514.72" stroke="#1f8ad6" stroke-width="0.75" stroke-opacity="0.38"/>
<line x1="387.10" y1="521.03" x2="391.50" y2="521.03" stroke="#1f8ad6" stroke-width="0.75" stroke-opacity="0.38"/>
<line x1="418.70" y1="501.04" x2="418.70" y2="517.88" stroke="#1f8ad6" stroke-width="0.75" stroke-opacity="0.38"/>
<line x1="416.50" y1="501.04" x2="420.90" y2="501.04" stroke="#1f8ad6" stroke-width="0.75" stroke-opacity="0.38"/>
<line x1="416.50" y1="517.88" x2="420.90" y2="517.88" stroke="#1f8ad6" stroke-width="0.75" stroke-opacity="0.38"/>
<line x1="440.75" y1="419.00" x2="440.75" y2="506.50" stroke="#1f8ad6" stroke-width="0.75" stroke-opacity="0.38"/>
<line x1="438.55" y1="419.00" x2="442.95" y2="419.00" stroke="#1f8ad6" stroke-width="0.75" stroke-opacity="0.38"/>
<line x1="438.55" y1="506.50" x2="442.95" y2="506.50" stroke="#1f8ad6" stroke-width="0.75" stroke-opacity="0.38"/>
<line x1="462.80" y1="445.70" x2="462.80" y2="496.30" stroke="#1f8ad6" stroke-width="0.75" stroke-opacity="0.38"/>
<line x1="460.60" y1="445.70" x2="465.00" y2="445.70" stroke="#1f8ad6" stroke-width="0.75" stroke-opacity="0.38"/>
<line x1="460.60" y1="496.30" x2="465.00" y2="496.30" stroke="#1f8ad6" stroke-width="0.75" stroke-opacity="0.38"/>
<line x1="484.85" y1="430.56" x2="484.85" y2="477.90" stroke="#1f8ad6" stroke-width="0.75" stroke-opacity="0.38"/>
<line x1="482.65" y1="430.56" x2="487.05" y2="430.56" stroke="#1f8ad6" stroke-width="0.75" stroke-opacity="0.38"/>
<line x1="482.65" y1="477.90" x2="487.05" y2="477.90" stroke="#1f8ad6" stroke-width="0.75" stroke-opacity="0.38"/>
<line x1="514.25" y1="370.60" x2="514.25" y2="430.56" stroke="#1f8ad6" stroke-width="0.75" stroke-opacity="0.38"/>
<line x1="512.05" y1="370.60" x2="516.45" y2="370.60" stroke="#1f8ad6" stroke-width="0.75" stroke-opacity="0.38"/>
<line x1="512.05" y1="430.56" x2="516.45" y2="430.56" stroke="#1f8ad6" stroke-width="0.75" stroke-opacity="0.38"/>
<line x1="418.70" y1="499.99" x2="418.70" y2="514.72" stroke="#1b5f93" stroke-width="0.75" stroke-opacity="0.38"/>
<line x1="416.50" y1="499.99" x2="420.90" y2="499.99" stroke="#1b5f93" stroke-width="0.75" stroke-opacity="0.38"/>
<line x1="416.50" y1="514.72" x2="420.90" y2="514.72" stroke="#1b5f93" stroke-width="0.75" stroke-opacity="0.38"/>
<line x1="440.75" y1="425.30" x2="440.75" y2="480.00" stroke="#1b5f93" stroke-width="0.75" stroke-opacity="0.38"/>
<line x1="438.55" y1="425.30" x2="442.95" y2="425.30" stroke="#1b5f93" stroke-width="0.75" stroke-opacity="0.38"/>
<line x1="438.55" y1="480.00" x2="442.95" y2="480.00" stroke="#1b5f93" stroke-width="0.75" stroke-opacity="0.38"/>
<line x1="462.80" y1="446.34" x2="462.80" y2="485.26" stroke="#1b5f93" stroke-width="0.75" stroke-opacity="0.38"/>
<line x1="460.60" y1="446.34" x2="465.00" y2="446.34" stroke="#1b5f93" stroke-width="0.75" stroke-opacity="0.38"/>
<line x1="460.60" y1="485.26" x2="465.00" y2="485.26" stroke="#1b5f93" stroke-width="0.75" stroke-opacity="0.38"/>
<line x1="484.85" y1="411.40" x2="484.85" y2="487.00" stroke="#1b5f93" stroke-width="0.75" stroke-opacity="0.38"/>
<line x1="482.65" y1="411.40" x2="487.05" y2="411.40" stroke="#1b5f93" stroke-width="0.75" stroke-opacity="0.38"/>
<line x1="482.65" y1="487.00" x2="487.05" y2="487.00" stroke="#1b5f93" stroke-width="0.75" stroke-opacity="0.38"/>
<line x1="514.25" y1="352.70" x2="514.25" y2="466.30" stroke="#1b5f93" stroke-width="0.75" stroke-opacity="0.38"/>
<line x1="512.05" y1="352.70" x2="516.45" y2="352.70" stroke="#1b5f93" stroke-width="0.75" stroke-opacity="0.38"/>
<line x1="512.05" y1="466.30" x2="516.45" y2="466.30" stroke="#1b5f93" stroke-width="0.75" stroke-opacity="0.38"/>
<polyline points="330.50,519.98 359.90,512.20 389.30,521.56 418.70,523.45 440.75,496.84 462.80,478.85 484.85,458.96 514.25,433.19" fill="none" stroke="#9ccbea" stroke-width="1.0" stroke-linejoin="miter"/>
<polygon points="330.50,517.88 332.51,521.47 328.49,521.47" fill="#9ccbea"/>
<polygon points="359.90,510.10 361.91,513.68 357.89,513.68" fill="#9ccbea"/>
<polygon points="389.30,519.46 391.31,523.05 387.29,523.05" fill="#9ccbea"/>
<polygon points="418.70,521.35 420.71,524.94 416.69,524.94" fill="#9ccbea"/>
<polygon points="440.75,494.74 442.76,498.32 438.74,498.32" fill="#9ccbea"/>
<polygon points="462.80,476.75 464.81,480.33 460.79,480.33" fill="#9ccbea"/>
<polygon points="484.85,456.86 486.86,460.45 482.84,460.45" fill="#9ccbea"/>
<polygon points="514.25,431.09 516.26,434.68 512.24,434.68" fill="#9ccbea"/>
<polyline points="330.50,519.98 359.90,514.72 389.30,517.88 418.70,517.03 440.75,460.75 462.80,468.01 484.85,438.66 514.25,401.10" fill="none" stroke="#5aa6df" stroke-width="1.0" stroke-linejoin="miter"/>
<polygon points="330.50,517.88 332.60,519.98 330.50,522.08 328.40,519.98" fill="#5aa6df"/>
<polygon points="359.90,512.62 362.00,514.72 359.90,516.82 357.80,514.72" fill="#5aa6df"/>
<polygon points="389.30,515.78 391.40,517.88 389.30,519.98 387.20,517.88" fill="#5aa6df"/>
<polygon points="418.70,514.93 420.80,517.03 418.70,519.13 416.60,517.03" fill="#5aa6df"/>
<polygon points="440.75,458.65 442.85,460.75 440.75,462.85 438.65,460.75" fill="#5aa6df"/>
<polygon points="462.80,465.91 464.90,468.01 462.80,470.11 460.70,468.01" fill="#5aa6df"/>
<polygon points="484.85,436.56 486.95,438.66 484.85,440.76 482.75,438.66" fill="#5aa6df"/>
<polygon points="514.25,399.00 516.35,401.10 514.25,403.20 512.15,401.10" fill="#5aa6df"/>
<polyline points="330.50,519.98 359.90,520.40 389.30,517.88 418.70,511.04 440.75,448.02 462.80,461.59 484.85,453.81 514.25,400.79" fill="none" stroke="#1f8ad6" stroke-width="1.0" stroke-linejoin="miter"/>
<circle cx="330.50" cy="519.98" r="1.75" fill="#1f8ad6"/>
<circle cx="359.90" cy="520.40" r="1.75" fill="#1f8ad6"/>
<circle cx="389.30" cy="517.88" r="1.75" fill="#1f8ad6"/>
<circle cx="418.70" cy="511.04" r="1.75" fill="#1f8ad6"/>
<circle cx="440.75" cy="448.02" r="1.75" fill="#1f8ad6"/>
<circle cx="462.80" cy="461.59" r="1.75" fill="#1f8ad6"/>
<circle cx="484.85" cy="453.81" r="1.75" fill="#1f8ad6"/>
<circle cx="514.25" cy="400.79" r="1.75" fill="#1f8ad6"/>
<polyline points="330.50,519.98 359.90,517.35 389.30,517.88 418.70,508.72 440.75,451.39 462.80,466.33 484.85,467.49 514.25,397.32" fill="none" stroke="#1b5f93" stroke-width="1.0" stroke-linejoin="miter"/>
<rect x="328.75" y="518.23" width="3.50" height="3.50" fill="#1b5f93"/>
<rect x="358.15" y="515.60" width="3.50" height="3.50" fill="#1b5f93"/>
<rect x="387.55" y="516.13" width="3.50" height="3.50" fill="#1b5f93"/>
<rect x="416.95" y="506.97" width="3.50" height="3.50" fill="#1b5f93"/>
<rect x="439.00" y="449.64" width="3.50" height="3.50" fill="#1b5f93"/>
<rect x="461.05" y="464.58" width="3.50" height="3.50" fill="#1b5f93"/>
<rect x="483.10" y="465.74" width="3.50" height="3.50" fill="#1b5f93"/>
<rect x="512.50" y="395.57" width="3.50" height="3.50" fill="#1b5f93"/>
<line x1="60.50" y1="577.50" x2="60.50" y2="731.50" stroke="#222" stroke-width="1.0"/>
<line x1="57.50" y1="731.50" x2="60.50" y2="731.50" stroke="#222" stroke-width="1.0"/>
<text x="56.70" y="734.50" font-size="8.9" font-weight="bold" text-anchor="end" fill="#111">65</text>
<line x1="57.50" y1="709.50" x2="60.50" y2="709.50" stroke="#222" stroke-width="1.0"/>
<text x="56.70" y="712.50" font-size="8.9" font-weight="bold" text-anchor="end" fill="#111">70</text>
<line x1="57.50" y1="687.50" x2="60.50" y2="687.50" stroke="#222" stroke-width="1.0"/>
<text x="56.70" y="690.50" font-size="8.9" font-weight="bold" text-anchor="end" fill="#111">75</text>
<line x1="57.50" y1="665.50" x2="60.50" y2="665.50" stroke="#222" stroke-width="1.0"/>
<text x="56.70" y="668.50" font-size="8.9" font-weight="bold" text-anchor="end" fill="#111">80</text>
<line x1="57.50" y1="643.50" x2="60.50" y2="643.50" stroke="#222" stroke-width="1.0"/>
<text x="56.70" y="646.50" font-size="8.9" font-weight="bold" text-anchor="end" fill="#111">85</text>
<line x1="57.50" y1="621.50" x2="60.50" y2="621.50" stroke="#222" stroke-width="1.0"/>
<text x="56.70" y="624.50" font-size="8.9" font-weight="bold" text-anchor="end" fill="#111">90</text>
<line x1="57.50" y1="599.50" x2="60.50" y2="599.50" stroke="#222" stroke-width="1.0"/>
<text x="56.70" y="602.50" font-size="8.9" font-weight="bold" text-anchor="end" fill="#111">95</text>
<line x1="57.50" y1="577.50" x2="60.50" y2="577.50" stroke="#222" stroke-width="1.0"/>
<text x="56.70" y="580.50" font-size="8.9" font-weight="bold" text-anchor="end" fill="#111">100</text>
<line x1="58.70" y1="720.50" x2="60.50" y2="720.50" stroke="#222" stroke-width="0.9"/>
<line x1="58.70" y1="698.50" x2="60.50" y2="698.50" stroke="#222" stroke-width="0.9"/>
<line x1="58.70" y1="676.50" x2="60.50" y2="676.50" stroke="#222" stroke-width="0.9"/>
<line x1="58.70" y1="654.50" x2="60.50" y2="654.50" stroke="#222" stroke-width="0.9"/>
<line x1="58.70" y1="632.50" x2="60.50" y2="632.50" stroke="#222" stroke-width="0.9"/>
<line x1="58.70" y1="610.50" x2="60.50" y2="610.50" stroke="#222" stroke-width="0.9"/>
<line x1="58.70" y1="588.50" x2="60.50" y2="588.50" stroke="#222" stroke-width="0.9"/>
<line x1="60.20" y1="731.50" x2="64.40" y2="731.50" stroke="#222" stroke-width="1.1"/>
<line x1="71.70" y1="731.50" x2="253.05" y2="731.50" stroke="#222" stroke-width="1.1"/>
<line x1="63.80" y1="733.60" x2="68.20" y2="729.50" stroke="#222" stroke-width="1.05"/>
<line x1="68.60" y1="733.60" x2="72.80" y2="729.50" stroke="#222" stroke-width="1.05"/>
<line x1="107.65" y1="731.50" x2="107.65" y2="734.30" stroke="#222" stroke-width="1.0"/>
<line x1="144.00" y1="731.50" x2="144.00" y2="734.30" stroke="#222" stroke-width="1.0"/>
<line x1="180.35" y1="731.50" x2="180.35" y2="734.30" stroke="#222" stroke-width="1.0"/>
<line x1="216.70" y1="731.50" x2="216.70" y2="734.30" stroke="#222" stroke-width="1.0"/>
<line x1="253.05" y1="731.50" x2="253.05" y2="734.30" stroke="#222" stroke-width="1.0"/>
<line x1="89.47" y1="731.50" x2="89.47" y2="733.10" stroke="#222" stroke-width="0.9"/>
<line x1="125.82" y1="731.50" x2="125.82" y2="733.10" stroke="#222" stroke-width="0.9"/>
<line x1="162.18" y1="731.50" x2="162.18" y2="733.10" stroke="#222" stroke-width="0.9"/>
<line x1="198.52" y1="731.50" x2="198.52" y2="733.10" stroke="#222" stroke-width="0.9"/>
<line x1="234.88" y1="731.50" x2="234.88" y2="733.10" stroke="#222" stroke-width="0.9"/>
<text x="71.30" y="744.30" font-size="8.9" font-weight="bold" text-anchor="middle" fill="#111">0</text>
<text x="107.65" y="744.30" font-size="8.9" font-weight="bold" text-anchor="middle" fill="#111">5</text>
<text x="144.00" y="744.30" font-size="8.9" font-weight="bold" text-anchor="middle" fill="#111">10</text>
<text x="180.35" y="744.30" font-size="8.9" font-weight="bold" text-anchor="middle" fill="#111">15</text>
<text x="216.70" y="744.30" font-size="8.9" font-weight="bold" text-anchor="middle" fill="#111">20</text>
<text x="253.05" y="744.30" font-size="8.9" font-weight="bold" text-anchor="middle" fill="#111">25</text>
<text x="156.20" y="753.90" font-size="9.7" font-weight="bold" text-anchor="middle" fill="#111">days of cultivation</text>
<text x="40.00" y="653.00" font-size="9.7" font-weight="bold" text-anchor="middle" fill="#111" transform="rotate(-90 40.00 653.00)">NK cell purity [%]</text>
<line x1="100.38" y1="626.60" x2="100.38" y2="636.90" stroke="#ee9a5a" stroke-width="0.75" stroke-opacity="0.38"/>
<line x1="98.18" y1="626.60" x2="102.58" y2="626.60" stroke="#ee9a5a" stroke-width="0.75" stroke-opacity="0.38"/>
<line x1="98.18" y1="636.90" x2="102.58" y2="636.90" stroke="#ee9a5a" stroke-width="0.75" stroke-opacity="0.38"/>
<line x1="129.46" y1="621.60" x2="129.46" y2="638.00" stroke="#ee9a5a" stroke-width="0.75" stroke-opacity="0.38"/>
<line x1="127.26" y1="621.60" x2="131.66" y2="621.60" stroke="#ee9a5a" stroke-width="0.75" stroke-opacity="0.38"/>
<line x1="127.26" y1="638.00" x2="131.66" y2="638.00" stroke="#ee9a5a" stroke-width="0.75" stroke-opacity="0.38"/>
<line x1="180.35" y1="617.60" x2="180.35" y2="638.70" stroke="#ee9a5a" stroke-width="0.75" stroke-opacity="0.38"/>
<line x1="178.15" y1="617.60" x2="182.55" y2="617.60" stroke="#ee9a5a" stroke-width="0.75" stroke-opacity="0.38"/>
<line x1="178.15" y1="638.70" x2="182.55" y2="638.70" stroke="#ee9a5a" stroke-width="0.75" stroke-opacity="0.38"/>
<line x1="223.97" y1="593.78" x2="223.97" y2="597.30" stroke="#ee9a5a" stroke-width="0.75" stroke-opacity="0.38"/>
<line x1="221.77" y1="593.78" x2="226.17" y2="593.78" stroke="#ee9a5a" stroke-width="0.75" stroke-opacity="0.38"/>
<line x1="221.77" y1="597.30" x2="226.17" y2="597.30" stroke="#ee9a5a" stroke-width="0.75" stroke-opacity="0.38"/>
<line x1="100.38" y1="628.00" x2="100.38" y2="684.40" stroke="#45b396" stroke-width="0.75" stroke-opacity="0.38"/>
<line x1="98.18" y1="628.00" x2="102.58" y2="628.00" stroke="#45b396" stroke-width="0.75" stroke-opacity="0.38"/>
<line x1="98.18" y1="684.40" x2="102.58" y2="684.40" stroke="#45b396" stroke-width="0.75" stroke-opacity="0.38"/>
<line x1="129.46" y1="628.10" x2="129.46" y2="639.10" stroke="#45b396" stroke-width="0.75" stroke-opacity="0.38"/>
<line x1="127.26" y1="628.10" x2="131.66" y2="628.10" stroke="#45b396" stroke-width="0.75" stroke-opacity="0.38"/>
<line x1="127.26" y1="639.10" x2="131.66" y2="639.10" stroke="#45b396" stroke-width="0.75" stroke-opacity="0.38"/>
<line x1="158.54" y1="601.70" x2="158.54" y2="607.86" stroke="#45b396" stroke-width="0.75" stroke-opacity="0.38"/>
<line x1="156.34" y1="601.70" x2="160.74" y2="601.70" stroke="#45b396" stroke-width="0.75" stroke-opacity="0.38"/>
<line x1="156.34" y1="607.86" x2="160.74" y2="607.86" stroke="#45b396" stroke-width="0.75" stroke-opacity="0.38"/>
<line x1="100.38" y1="634.70" x2="100.38" y2="661.10" stroke="#62a9e2" stroke-width="0.75" stroke-opacity="0.38"/>
<line x1="98.18" y1="634.70" x2="102.58" y2="634.70" stroke="#62a9e2" stroke-width="0.75" stroke-opacity="0.38"/>
<line x1="98.18" y1="661.10" x2="102.58" y2="661.10" stroke="#62a9e2" stroke-width="0.75" stroke-opacity="0.38"/>
<line x1="129.46" y1="608.30" x2="129.46" y2="617.10" stroke="#62a9e2" stroke-width="0.75" stroke-opacity="0.38"/>
<line x1="127.26" y1="608.30" x2="131.66" y2="608.30" stroke="#62a9e2" stroke-width="0.75" stroke-opacity="0.38"/>
<line x1="127.26" y1="617.10" x2="131.66" y2="617.10" stroke="#62a9e2" stroke-width="0.75" stroke-opacity="0.38"/>
<line x1="180.35" y1="598.62" x2="180.35" y2="606.98" stroke="#62a9e2" stroke-width="0.75" stroke-opacity="0.38"/>
<line x1="178.15" y1="598.62" x2="182.55" y2="598.62" stroke="#62a9e2" stroke-width="0.75" stroke-opacity="0.38"/>
<line x1="178.15" y1="606.98" x2="182.55" y2="606.98" stroke="#62a9e2" stroke-width="0.75" stroke-opacity="0.38"/>
<line x1="202.16" y1="595.98" x2="202.16" y2="603.02" stroke="#62a9e2" stroke-width="0.75" stroke-opacity="0.38"/>
<line x1="199.96" y1="595.98" x2="204.36" y2="595.98" stroke="#62a9e2" stroke-width="0.75" stroke-opacity="0.38"/>
<line x1="199.96" y1="603.02" x2="204.36" y2="603.02" stroke="#62a9e2" stroke-width="0.75" stroke-opacity="0.38"/>
<line x1="100.38" y1="641.30" x2="100.38" y2="650.10" stroke="#a3571f" stroke-width="0.75" stroke-opacity="0.38"/>
<line x1="98.18" y1="641.30" x2="102.58" y2="641.30" stroke="#a3571f" stroke-width="0.75" stroke-opacity="0.38"/>
<line x1="98.18" y1="650.10" x2="102.58" y2="650.10" stroke="#a3571f" stroke-width="0.75" stroke-opacity="0.38"/>
<line x1="100.38" y1="614.90" x2="100.38" y2="620.18" stroke="#e35d80" stroke-width="0.75" stroke-opacity="0.38"/>
<line x1="98.18" y1="614.90" x2="102.58" y2="614.90" stroke="#e35d80" stroke-width="0.75" stroke-opacity="0.38"/>
<line x1="98.18" y1="620.18" x2="102.58" y2="620.18" stroke="#e35d80" stroke-width="0.75" stroke-opacity="0.38"/>
<line x1="129.46" y1="602.00" x2="129.46" y2="610.50" stroke="#e35d80" stroke-width="0.75" stroke-opacity="0.38"/>
<line x1="127.26" y1="602.00" x2="131.66" y2="602.00" stroke="#e35d80" stroke-width="0.75" stroke-opacity="0.38"/>
<line x1="127.26" y1="610.50" x2="131.66" y2="610.50" stroke="#e35d80" stroke-width="0.75" stroke-opacity="0.38"/>
<line x1="158.54" y1="592.40" x2="158.54" y2="600.82" stroke="#e35d80" stroke-width="0.75" stroke-opacity="0.38"/>
<line x1="156.34" y1="592.40" x2="160.74" y2="592.40" stroke="#e35d80" stroke-width="0.75" stroke-opacity="0.38"/>
<line x1="156.34" y1="600.82" x2="160.74" y2="600.82" stroke="#e35d80" stroke-width="0.75" stroke-opacity="0.38"/>
<line x1="180.35" y1="594.66" x2="180.35" y2="599.50" stroke="#e35d80" stroke-width="0.75" stroke-opacity="0.38"/>
<line x1="178.15" y1="594.66" x2="182.55" y2="594.66" stroke="#e35d80" stroke-width="0.75" stroke-opacity="0.38"/>
<line x1="178.15" y1="599.50" x2="182.55" y2="599.50" stroke="#e35d80" stroke-width="0.75" stroke-opacity="0.38"/>
<polyline points="71.30,611.38 100.38,630.74 129.46,626.78 158.54,630.74 180.35,628.54 202.16,608.74 223.97,595.54 253.05,595.10" fill="none" stroke="#ee9a5a" stroke-width="1.0" stroke-linejoin="miter"/>
<circle cx="71.30" cy="611.38" r="1.75" fill="#ee9a5a"/>
<circle cx="100.38" cy="630.74" r="1.75" fill="#ee9a5a"/>
<circle cx="129.46" cy="626.78" r="1.75" fill="#ee9a5a"/>
<circle cx="158.54" cy="630.74" r="1.75" fill="#ee9a5a"/>
<circle cx="180.35" cy="628.54" r="1.75" fill="#ee9a5a"/>
<circle cx="202.16" cy="608.74" r="1.75" fill="#ee9a5a"/>
<circle cx="223.97" cy="595.54" r="1.75" fill="#ee9a5a"/>
<circle cx="253.05" cy="595.10" r="1.75" fill="#ee9a5a"/>
<polyline points="71.30,655.38 100.38,670.34 129.46,633.82 158.54,604.78 180.35,601.70 202.16,595.10 223.97,586.30 253.05,585.42" fill="none" stroke="#45b396" stroke-width="1.0" stroke-linejoin="miter"/>
<circle cx="71.30" cy="655.38" r="1.75" fill="#45b396"/>
<circle cx="100.38" cy="670.34" r="1.75" fill="#45b396"/>
<circle cx="129.46" cy="633.82" r="1.75" fill="#45b396"/>
<circle cx="158.54" cy="604.78" r="1.75" fill="#45b396"/>
<circle cx="180.35" cy="601.70" r="1.75" fill="#45b396"/>
<circle cx="202.16" cy="595.10" r="1.75" fill="#45b396"/>
<circle cx="223.97" cy="586.30" r="1.75" fill="#45b396"/>
<circle cx="253.05" cy="585.42" r="1.75" fill="#45b396"/>
<polyline points="71.30,711.26 100.38,647.90 129.46,611.82 158.54,599.94 180.35,602.14 202.16,599.50 223.97,586.30 253.05,585.42" fill="none" stroke="#62a9e2" stroke-width="1.0" stroke-linejoin="miter"/>
<polygon points="71.30,709.16 73.40,711.26 71.30,713.36 69.20,711.26" fill="#62a9e2"/>
<polygon points="100.38,645.80 102.48,647.90 100.38,650.00 98.28,647.90" fill="#62a9e2"/>
<polygon points="129.46,609.72 131.56,611.82 129.46,613.92 127.36,611.82" fill="#62a9e2"/>
<polygon points="158.54,597.84 160.64,599.94 158.54,602.04 156.44,599.94" fill="#62a9e2"/>
<polygon points="180.35,600.04 182.45,602.14 180.35,604.24 178.25,602.14" fill="#62a9e2"/>
<polygon points="202.16,597.40 204.26,599.50 202.16,601.60 200.06,599.50" fill="#62a9e2"/>
<polygon points="223.97,584.20 226.07,586.30 223.97,588.40 221.87,586.30" fill="#62a9e2"/>
<polygon points="253.05,583.32 255.15,585.42 253.05,587.52 250.95,585.42" fill="#62a9e2"/>
<polyline points="71.30,687.94 100.38,645.70 129.46,610.94 158.54,601.70 180.35,597.74 202.16,588.94 223.97,582.34 253.05,582.78" fill="none" stroke="#a3571f" stroke-width="1.0" stroke-linejoin="miter"/>
<rect x="69.55" y="686.19" width="3.50" height="3.50" fill="#a3571f"/>
<rect x="98.63" y="643.95" width="3.50" height="3.50" fill="#a3571f"/>
<rect x="127.71" y="609.19" width="3.50" height="3.50" fill="#a3571f"/>
<rect x="156.79" y="599.95" width="3.50" height="3.50" fill="#a3571f"/>
<rect x="178.60" y="595.99" width="3.50" height="3.50" fill="#a3571f"/>
<rect x="200.41" y="587.19" width="3.50" height="3.50" fill="#a3571f"/>
<rect x="222.22" y="580.59" width="3.50" height="3.50" fill="#a3571f"/>
<rect x="251.30" y="581.03" width="3.50" height="3.50" fill="#a3571f"/>
<polyline points="71.30,624.14 100.38,617.54 129.46,607.86 158.54,597.74 180.35,597.30 202.16,588.94 223.97,582.34 253.05,581.02" fill="none" stroke="#e35d80" stroke-width="1.0" stroke-linejoin="miter"/>
<polygon points="71.30,622.04 73.31,625.63 69.29,625.63" fill="#e35d80"/>
<polygon points="100.38,615.44 102.39,619.03 98.37,619.03" fill="#e35d80"/>
<polygon points="129.46,605.76 131.47,609.35 127.45,609.35" fill="#e35d80"/>
<polygon points="158.54,595.64 160.55,599.23 156.53,599.23" fill="#e35d80"/>
<polygon points="180.35,595.20 182.36,598.79 178.34,598.79" fill="#e35d80"/>
<polygon points="202.16,586.84 204.17,590.43 200.15,590.43" fill="#e35d80"/>
<polygon points="223.97,580.24 225.98,583.83 221.96,583.83" fill="#e35d80"/>
<polygon points="253.05,578.92 255.06,582.51 251.04,582.51" fill="#e35d80"/>
<line x1="324.50" y1="577.50" x2="324.50" y2="731.50" stroke="#222" stroke-width="1.0"/>
<line x1="321.50" y1="731.50" x2="324.50" y2="731.50" stroke="#222" stroke-width="1.0"/>
<text x="320.80" y="734.50" font-size="8.9" font-weight="bold" text-anchor="end" fill="#111">65</text>
<line x1="321.50" y1="709.50" x2="324.50" y2="709.50" stroke="#222" stroke-width="1.0"/>
<text x="320.80" y="712.50" font-size="8.9" font-weight="bold" text-anchor="end" fill="#111">70</text>
<line x1="321.50" y1="687.50" x2="324.50" y2="687.50" stroke="#222" stroke-width="1.0"/>
<text x="320.80" y="690.50" font-size="8.9" font-weight="bold" text-anchor="end" fill="#111">75</text>
<line x1="321.50" y1="665.50" x2="324.50" y2="665.50" stroke="#222" stroke-width="1.0"/>
<text x="320.80" y="668.50" font-size="8.9" font-weight="bold" text-anchor="end" fill="#111">80</text>
<line x1="321.50" y1="643.50" x2="324.50" y2="643.50" stroke="#222" stroke-width="1.0"/>
<text x="320.80" y="646.50" font-size="8.9" font-weight="bold" text-anchor="end" fill="#111">85</text>
<line x1="321.50" y1="621.50" x2="324.50" y2="621.50" stroke="#222" stroke-width="1.0"/>
<text x="320.80" y="624.50" font-size="8.9" font-weight="bold" text-anchor="end" fill="#111">90</text>
<line x1="321.50" y1="599.50" x2="324.50" y2="599.50" stroke="#222" stroke-width="1.0"/>
<text x="320.80" y="602.50" font-size="8.9" font-weight="bold" text-anchor="end" fill="#111">95</text>
<line x1="321.50" y1="577.50" x2="324.50" y2="577.50" stroke="#222" stroke-width="1.0"/>
<text x="320.80" y="580.50" font-size="8.9" font-weight="bold" text-anchor="end" fill="#111">100</text>
<line x1="322.70" y1="720.50" x2="324.50" y2="720.50" stroke="#222" stroke-width="0.9"/>
<line x1="322.70" y1="698.50" x2="324.50" y2="698.50" stroke="#222" stroke-width="0.9"/>
<line x1="322.70" y1="676.50" x2="324.50" y2="676.50" stroke="#222" stroke-width="0.9"/>
<line x1="322.70" y1="654.50" x2="324.50" y2="654.50" stroke="#222" stroke-width="0.9"/>
<line x1="322.70" y1="632.50" x2="324.50" y2="632.50" stroke="#222" stroke-width="0.9"/>
<line x1="322.70" y1="610.50" x2="324.50" y2="610.50" stroke="#222" stroke-width="0.9"/>
<line x1="322.70" y1="588.50" x2="324.50" y2="588.50" stroke="#222" stroke-width="0.9"/>
<line x1="324.30" y1="731.50" x2="328.50" y2="731.50" stroke="#222" stroke-width="1.1"/>
<line x1="335.80" y1="731.50" x2="516.05" y2="731.50" stroke="#222" stroke-width="1.1"/>
<line x1="327.90" y1="733.60" x2="332.30" y2="729.50" stroke="#222" stroke-width="1.05"/>
<line x1="332.70" y1="733.60" x2="336.90" y2="729.50" stroke="#222" stroke-width="1.05"/>
<line x1="371.85" y1="731.50" x2="371.85" y2="734.30" stroke="#222" stroke-width="1.0"/>
<line x1="407.90" y1="731.50" x2="407.90" y2="734.30" stroke="#222" stroke-width="1.0"/>
<line x1="443.95" y1="731.50" x2="443.95" y2="734.30" stroke="#222" stroke-width="1.0"/>
<line x1="480.00" y1="731.50" x2="480.00" y2="734.30" stroke="#222" stroke-width="1.0"/>
<line x1="516.05" y1="731.50" x2="516.05" y2="734.30" stroke="#222" stroke-width="1.0"/>
<line x1="353.82" y1="731.50" x2="353.82" y2="733.10" stroke="#222" stroke-width="0.9"/>
<line x1="389.88" y1="731.50" x2="389.88" y2="733.10" stroke="#222" stroke-width="0.9"/>
<line x1="425.93" y1="731.50" x2="425.93" y2="733.10" stroke="#222" stroke-width="0.9"/>
<line x1="461.98" y1="731.50" x2="461.98" y2="733.10" stroke="#222" stroke-width="0.9"/>
<line x1="498.02" y1="731.50" x2="498.02" y2="733.10" stroke="#222" stroke-width="0.9"/>
<text x="335.80" y="744.30" font-size="8.9" font-weight="bold" text-anchor="middle" fill="#111">0</text>
<text x="371.85" y="744.30" font-size="8.9" font-weight="bold" text-anchor="middle" fill="#111">5</text>
<text x="407.90" y="744.30" font-size="8.9" font-weight="bold" text-anchor="middle" fill="#111">10</text>
<text x="443.95" y="744.30" font-size="8.9" font-weight="bold" text-anchor="middle" fill="#111">15</text>
<text x="480.00" y="744.30" font-size="8.9" font-weight="bold" text-anchor="middle" fill="#111">20</text>
<text x="516.05" y="744.30" font-size="8.9" font-weight="bold" text-anchor="middle" fill="#111">25</text>
<text x="420.50" y="753.80" font-size="9.7" font-weight="bold" text-anchor="middle" fill="#111">days of cultivation</text>
<text x="305.00" y="653.00" font-size="9.7" font-weight="bold" text-anchor="middle" fill="#111" transform="rotate(-90 305.00 653.00)">NK cell purity [%]</text>
<line x1="364.64" y1="630.30" x2="364.64" y2="643.50" stroke="#9ccbea" stroke-width="0.75" stroke-opacity="0.38"/>
<line x1="362.44" y1="630.30" x2="366.84" y2="630.30" stroke="#9ccbea" stroke-width="0.75" stroke-opacity="0.38"/>
<line x1="362.44" y1="643.50" x2="366.84" y2="643.50" stroke="#9ccbea" stroke-width="0.75" stroke-opacity="0.38"/>
<line x1="393.48" y1="621.50" x2="393.48" y2="634.70" stroke="#9ccbea" stroke-width="0.75" stroke-opacity="0.38"/>
<line x1="391.28" y1="621.50" x2="395.68" y2="621.50" stroke="#9ccbea" stroke-width="0.75" stroke-opacity="0.38"/>
<line x1="391.28" y1="634.70" x2="395.68" y2="634.70" stroke="#9ccbea" stroke-width="0.75" stroke-opacity="0.38"/>
<line x1="443.95" y1="603.90" x2="443.95" y2="617.10" stroke="#9ccbea" stroke-width="0.75" stroke-opacity="0.38"/>
<line x1="441.75" y1="603.90" x2="446.15" y2="603.90" stroke="#9ccbea" stroke-width="0.75" stroke-opacity="0.38"/>
<line x1="441.75" y1="617.10" x2="446.15" y2="617.10" stroke="#9ccbea" stroke-width="0.75" stroke-opacity="0.38"/>
<line x1="465.58" y1="597.30" x2="465.58" y2="606.10" stroke="#9ccbea" stroke-width="0.75" stroke-opacity="0.38"/>
<line x1="463.38" y1="597.30" x2="467.78" y2="597.30" stroke="#9ccbea" stroke-width="0.75" stroke-opacity="0.38"/>
<line x1="463.38" y1="606.10" x2="467.78" y2="606.10" stroke="#9ccbea" stroke-width="0.75" stroke-opacity="0.38"/>
<line x1="335.80" y1="639.00" x2="335.80" y2="678.00" stroke="#5aa6df" stroke-width="0.75" stroke-opacity="0.38"/>
<line x1="333.60" y1="639.00" x2="338.00" y2="639.00" stroke="#5aa6df" stroke-width="0.75" stroke-opacity="0.38"/>
<line x1="333.60" y1="678.00" x2="338.00" y2="678.00" stroke="#5aa6df" stroke-width="0.75" stroke-opacity="0.38"/>
<line x1="364.64" y1="630.00" x2="364.64" y2="667.00" stroke="#5aa6df" stroke-width="0.75" stroke-opacity="0.38"/>
<line x1="362.44" y1="630.00" x2="366.84" y2="630.00" stroke="#5aa6df" stroke-width="0.75" stroke-opacity="0.38"/>
<line x1="362.44" y1="667.00" x2="366.84" y2="667.00" stroke="#5aa6df" stroke-width="0.75" stroke-opacity="0.38"/>
<line x1="393.48" y1="612.70" x2="393.48" y2="623.70" stroke="#5aa6df" stroke-width="0.75" stroke-opacity="0.38"/>
<line x1="391.28" y1="612.70" x2="395.68" y2="612.70" stroke="#5aa6df" stroke-width="0.75" stroke-opacity="0.38"/>
<line x1="391.28" y1="623.70" x2="395.68" y2="623.70" stroke="#5aa6df" stroke-width="0.75" stroke-opacity="0.38"/>
<line x1="422.32" y1="603.90" x2="422.32" y2="614.90" stroke="#5aa6df" stroke-width="0.75" stroke-opacity="0.38"/>
<line x1="420.12" y1="603.90" x2="424.52" y2="603.90" stroke="#5aa6df" stroke-width="0.75" stroke-opacity="0.38"/>
<line x1="420.12" y1="614.90" x2="424.52" y2="614.90" stroke="#5aa6df" stroke-width="0.75" stroke-opacity="0.38"/>
<line x1="443.95" y1="599.50" x2="443.95" y2="612.70" stroke="#5aa6df" stroke-width="0.75" stroke-opacity="0.38"/>
<line x1="441.75" y1="599.50" x2="446.15" y2="599.50" stroke="#5aa6df" stroke-width="0.75" stroke-opacity="0.38"/>
<line x1="441.75" y1="612.70" x2="446.15" y2="612.70" stroke="#5aa6df" stroke-width="0.75" stroke-opacity="0.38"/>
<line x1="393.48" y1="607.42" x2="393.48" y2="617.10" stroke="#1f8ad6" stroke-width="0.75" stroke-opacity="0.38"/>
<line x1="391.28" y1="607.42" x2="395.68" y2="607.42" stroke="#1f8ad6" stroke-width="0.75" stroke-opacity="0.38"/>
<line x1="391.28" y1="617.10" x2="395.68" y2="617.10" stroke="#1f8ad6" stroke-width="0.75" stroke-opacity="0.38"/>
<line x1="422.32" y1="600.38" x2="422.32" y2="611.38" stroke="#1f8ad6" stroke-width="0.75" stroke-opacity="0.38"/>
<line x1="420.12" y1="600.38" x2="424.52" y2="600.38" stroke="#1f8ad6" stroke-width="0.75" stroke-opacity="0.38"/>
<line x1="420.12" y1="611.38" x2="424.52" y2="611.38" stroke="#1f8ad6" stroke-width="0.75" stroke-opacity="0.38"/>
<line x1="465.58" y1="589.38" x2="465.58" y2="598.62" stroke="#1f8ad6" stroke-width="0.75" stroke-opacity="0.38"/>
<line x1="463.38" y1="589.38" x2="467.78" y2="589.38" stroke="#1f8ad6" stroke-width="0.75" stroke-opacity="0.38"/>
<line x1="463.38" y1="598.62" x2="467.78" y2="598.62" stroke="#1f8ad6" stroke-width="0.75" stroke-opacity="0.38"/>
<line x1="364.64" y1="641.30" x2="364.64" y2="667.70" stroke="#1b5f93" stroke-width="0.75" stroke-opacity="0.38"/>
<line x1="362.44" y1="641.30" x2="366.84" y2="641.30" stroke="#1b5f93" stroke-width="0.75" stroke-opacity="0.38"/>
<line x1="362.44" y1="667.70" x2="366.84" y2="667.70" stroke="#1b5f93" stroke-width="0.75" stroke-opacity="0.38"/>
<line x1="443.95" y1="593.78" x2="443.95" y2="601.70" stroke="#1b5f93" stroke-width="0.75" stroke-opacity="0.38"/>
<line x1="441.75" y1="593.78" x2="446.15" y2="593.78" stroke="#1b5f93" stroke-width="0.75" stroke-opacity="0.38"/>
<line x1="441.75" y1="601.70" x2="446.15" y2="601.70" stroke="#1b5f93" stroke-width="0.75" stroke-opacity="0.38"/>
<polyline points="335.80,658.46 364.64,637.78 393.48,628.54 422.32,605.66 443.95,610.50 465.58,601.70 487.21,588.94 516.05,587.18" fill="none" stroke="#9ccbea" stroke-width="1.0" stroke-linejoin="miter"/>
<polygon points="335.80,656.36 337.81,659.95 333.79,659.95" fill="#9ccbea"/>
<polygon points="364.64,635.68 366.65,639.27 362.63,639.27" fill="#9ccbea"/>
<polygon points="393.48,626.44 395.49,630.03 391.47,630.03" fill="#9ccbea"/>
<polygon points="422.32,603.56 424.33,607.15 420.31,607.15" fill="#9ccbea"/>
<polygon points="443.95,608.40 445.96,611.99 441.94,611.99" fill="#9ccbea"/>
<polygon points="465.58,599.60 467.59,603.19 463.57,603.19" fill="#9ccbea"/>
<polygon points="487.21,586.84 489.22,590.43 485.20,590.43" fill="#9ccbea"/>
<polygon points="516.05,585.08 518.06,588.67 514.04,588.67" fill="#9ccbea"/>
<polyline points="335.80,658.46 364.64,635.58 393.48,617.54 422.32,610.50 443.95,603.90 465.58,596.86 487.21,586.30 516.05,585.42" fill="none" stroke="#5aa6df" stroke-width="1.0" stroke-linejoin="miter"/>
<polygon points="335.80,656.36 337.90,658.46 335.80,660.56 333.70,658.46" fill="#5aa6df"/>
<polygon points="364.64,633.48 366.74,635.58 364.64,637.68 362.54,635.58" fill="#5aa6df"/>
<polygon points="393.48,615.44 395.58,617.54 393.48,619.64 391.38,617.54" fill="#5aa6df"/>
<polygon points="422.32,608.40 424.42,610.50 422.32,612.60 420.22,610.50" fill="#5aa6df"/>
<polygon points="443.95,601.80 446.05,603.90 443.95,606.00 441.85,603.90" fill="#5aa6df"/>
<polygon points="465.58,594.76 467.68,596.86 465.58,598.96 463.48,596.86" fill="#5aa6df"/>
<polygon points="487.21,584.20 489.31,586.30 487.21,588.40 485.11,586.30" fill="#5aa6df"/>
<polygon points="516.05,583.32 518.15,585.42 516.05,587.52 513.95,585.42" fill="#5aa6df"/>
<polyline points="335.80,658.46 364.64,643.50 393.48,612.70 422.32,606.10 443.95,606.98 465.58,594.22 487.21,586.30 516.05,585.42" fill="none" stroke="#1f8ad6" stroke-width="1.0" stroke-linejoin="miter"/>
<circle cx="335.80" cy="658.46" r="1.75" fill="#1f8ad6"/>
<circle cx="364.64" cy="643.50" r="1.75" fill="#1f8ad6"/>
<circle cx="393.48" cy="612.70" r="1.75" fill="#1f8ad6"/>
<circle cx="422.32" cy="606.10" r="1.75" fill="#1f8ad6"/>
<circle cx="443.95" cy="606.98" r="1.75" fill="#1f8ad6"/>
<circle cx="465.58" cy="594.22" r="1.75" fill="#1f8ad6"/>
<circle cx="487.21" cy="586.30" r="1.75" fill="#1f8ad6"/>
<circle cx="516.05" cy="585.42" r="1.75" fill="#1f8ad6"/>
<polyline points="335.80,658.46 364.64,649.22 393.48,612.70 422.32,606.10 443.95,598.18 465.58,593.34 487.21,584.54 516.05,584.10" fill="none" stroke="#1b5f93" stroke-width="1.0" stroke-linejoin="miter"/>
<rect x="334.05" y="656.71" width="3.50" height="3.50" fill="#1b5f93"/>
<rect x="362.89" y="647.47" width="3.50" height="3.50" fill="#1b5f93"/>
<rect x="391.73" y="610.95" width="3.50" height="3.50" fill="#1b5f93"/>
<rect x="420.57" y="604.35" width="3.50" height="3.50" fill="#1b5f93"/>
<rect x="442.20" y="596.43" width="3.50" height="3.50" fill="#1b5f93"/>
<rect x="463.83" y="591.59" width="3.50" height="3.50" fill="#1b5f93"/>
<rect x="485.46" y="582.79" width="3.50" height="3.50" fill="#1b5f93"/>
<rect x="514.30" y="582.35" width="3.50" height="3.50" fill="#1b5f93"/>
</svg>
</body></html>
